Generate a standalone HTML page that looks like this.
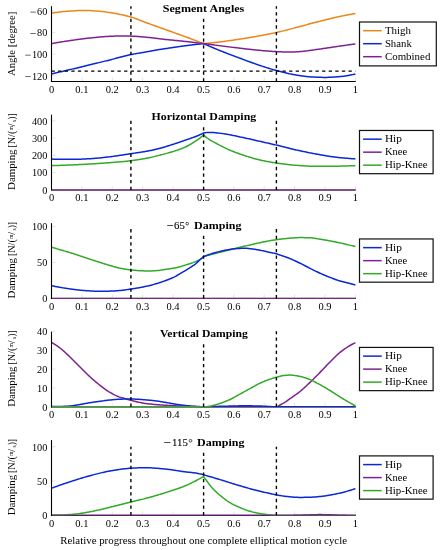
<!DOCTYPE html><html><head><meta charset="utf-8"><style>html,body{margin:0;padding:0;background:#fff;}svg{display:block;will-change:transform;}</style></head><body>
<svg width="440" height="550" viewBox="0 0 440 550">
<rect width="440" height="550" fill="#fff"/>
<defs>
<clipPath id="c0"><rect x="52.00" y="3.20" width="304.50" height="78.75"/></clipPath>
<clipPath id="c1"><rect x="52.00" y="111.67" width="304.50" height="78.75"/></clipPath>
<clipPath id="c2"><rect x="52.00" y="220.15" width="304.50" height="78.75"/></clipPath>
<clipPath id="c3"><rect x="52.00" y="328.62" width="304.50" height="78.75"/></clipPath>
<clipPath id="c4"><rect x="52.00" y="437.10" width="304.50" height="78.75"/></clipPath>
</defs>
<line x1="81.89" y1="81.45" x2="81.89" y2="77.45" stroke="#d9d9d9" stroke-width="0.7"/>
<line x1="112.28" y1="81.45" x2="112.28" y2="77.45" stroke="#d9d9d9" stroke-width="0.7"/>
<line x1="142.67" y1="81.45" x2="142.67" y2="77.45" stroke="#d9d9d9" stroke-width="0.7"/>
<line x1="173.06" y1="81.45" x2="173.06" y2="77.45" stroke="#d9d9d9" stroke-width="0.7"/>
<line x1="203.45" y1="81.45" x2="203.45" y2="77.45" stroke="#d9d9d9" stroke-width="0.7"/>
<line x1="233.84" y1="81.45" x2="233.84" y2="77.45" stroke="#d9d9d9" stroke-width="0.7"/>
<line x1="264.23" y1="81.45" x2="264.23" y2="77.45" stroke="#d9d9d9" stroke-width="0.7"/>
<line x1="294.62" y1="81.45" x2="294.62" y2="77.45" stroke="#d9d9d9" stroke-width="0.7"/>
<line x1="325.01" y1="81.45" x2="325.01" y2="77.45" stroke="#d9d9d9" stroke-width="0.7"/>
<line x1="355.40" y1="81.45" x2="355.40" y2="77.45" stroke="#d9d9d9" stroke-width="0.7"/>
<line x1="51.50" y1="11.10" x2="55.50" y2="11.10" stroke="#d9d9d9" stroke-width="0.7"/>
<line x1="51.50" y1="32.60" x2="55.50" y2="32.60" stroke="#d9d9d9" stroke-width="0.7"/>
<line x1="51.50" y1="54.15" x2="55.50" y2="54.15" stroke="#d9d9d9" stroke-width="0.7"/>
<line x1="51.50" y1="75.70" x2="55.50" y2="75.70" stroke="#d9d9d9" stroke-width="0.7"/>
<line x1="51.50" y1="6.20" x2="51.50" y2="82.00" stroke="#000" stroke-width="1.10"/>
<line x1="50.95" y1="81.45" x2="355.80" y2="81.45" stroke="#000" stroke-width="1.10"/>
<g clip-path="url(#c0)">
<path d="M51.50,13.20 L52.47,13.05 L53.44,12.90 L54.41,12.75 L55.38,12.60 L56.35,12.46 L57.32,12.33 L58.29,12.20 L59.26,12.07 L60.24,11.95 L61.21,11.83 L62.18,11.72 L63.15,11.62 L64.12,11.52 L65.09,11.43 L66.06,11.34 L67.03,11.27 L68.00,11.20 L68.97,11.14 L69.94,11.07 L70.91,11.01 L71.88,10.94 L72.85,10.88 L73.82,10.82 L74.79,10.77 L75.76,10.71 L76.74,10.66 L77.71,10.62 L78.68,10.58 L79.65,10.54 L80.62,10.51 L81.59,10.48 L82.56,10.47 L83.53,10.45 L84.50,10.45 L85.47,10.46 L86.44,10.47 L87.41,10.49 L88.38,10.53 L89.34,10.56 L90.31,10.61 L91.28,10.66 L92.25,10.72 L93.22,10.78 L94.19,10.85 L95.16,10.92 L96.12,10.99 L97.09,11.07 L98.06,11.15 L99.03,11.22 L100.00,11.30 L101.00,11.39 L102.00,11.48 L103.00,11.59 L104.00,11.71 L105.00,11.84 L106.00,11.98 L107.00,12.12 L108.00,12.27 L109.00,12.43 L110.00,12.58 L111.00,12.74 L112.00,12.90 L113.00,13.06 L114.00,13.24 L115.00,13.41 L116.00,13.60 L117.00,13.79 L118.00,13.99 L119.00,14.19 L120.00,14.40 L121.00,14.61 L122.00,14.83 L123.00,15.05 L124.00,15.27 L125.00,15.50 L125.98,15.73 L126.97,15.96 L127.95,16.20 L128.93,16.45 L129.92,16.72 L130.90,17.00 L131.84,17.29 L132.78,17.59 L133.72,17.91 L134.66,18.24 L135.60,18.58 L136.54,18.93 L137.48,19.29 L138.42,19.66 L139.36,20.03 L140.30,20.40 L141.24,20.77 L142.18,21.13 L143.12,21.50 L144.06,21.85 L145.00,22.20 L146.00,22.56 L147.00,22.93 L148.00,23.29 L149.00,23.65 L150.00,24.01 L151.00,24.37 L152.00,24.73 L153.00,25.09 L154.00,25.45 L155.00,25.81 L156.00,26.17 L157.00,26.53 L158.00,26.89 L159.00,27.25 L160.00,27.60 L161.00,27.96 L162.00,28.32 L163.00,28.68 L164.00,29.04 L165.00,29.40 L166.00,29.76 L167.00,30.12 L168.00,30.48 L169.00,30.83 L170.00,31.19 L171.00,31.55 L172.00,31.91 L173.00,32.26 L174.00,32.62 L175.00,32.98 L176.00,33.34 L177.00,33.70 L178.00,34.06 L179.00,34.42 L180.00,34.78 L181.00,35.14 L182.00,35.50 L183.00,35.87 L184.00,36.23 L185.00,36.60 L185.98,36.96 L186.96,37.32 L187.94,37.68 L188.92,38.05 L189.89,38.41 L190.87,38.78 L191.85,39.14 L192.83,39.51 L193.81,39.88 L194.79,40.25 L195.77,40.62 L196.75,40.99 L197.73,41.36 L198.71,41.73 L199.68,42.10 L200.66,42.48 L201.64,42.85 L202.62,43.22 L203.60,43.60 L204.56,43.51 L205.53,43.43 L206.49,43.34 L207.46,43.25 L208.42,43.15 L209.39,43.06 L210.35,42.96 L211.32,42.86 L212.28,42.76 L213.25,42.66 L214.21,42.56 L215.18,42.45 L216.14,42.34 L217.11,42.24 L218.07,42.13 L219.04,42.01 L220.00,41.90 L221.00,41.78 L222.00,41.66 L223.00,41.53 L224.00,41.40 L225.00,41.27 L226.00,41.14 L227.00,41.00 L228.00,40.87 L229.00,40.73 L230.00,40.58 L231.00,40.44 L232.00,40.30 L233.00,40.15 L234.00,40.00 L235.00,39.86 L236.00,39.71 L237.00,39.56 L238.00,39.40 L239.00,39.25 L240.00,39.10 L241.00,38.95 L242.00,38.79 L243.00,38.64 L244.00,38.48 L245.00,38.32 L246.00,38.16 L247.00,37.99 L248.00,37.83 L249.00,37.66 L250.00,37.49 L251.00,37.33 L252.00,37.15 L253.00,36.98 L254.00,36.81 L255.00,36.63 L256.00,36.46 L257.00,36.28 L258.00,36.10 L258.97,35.93 L259.94,35.75 L260.91,35.57 L261.87,35.40 L262.84,35.22 L263.81,35.04 L264.78,34.85 L265.75,34.67 L266.72,34.48 L267.68,34.30 L268.65,34.11 L269.62,33.91 L270.59,33.72 L271.56,33.52 L272.53,33.32 L273.49,33.12 L274.46,32.92 L275.43,32.71 L276.40,32.50 L277.38,32.28 L278.36,32.06 L279.34,31.83 L280.32,31.60 L281.30,31.37 L282.28,31.13 L283.26,30.89 L284.24,30.64 L285.22,30.40 L286.20,30.15 L287.18,29.90 L288.16,29.64 L289.14,29.39 L290.12,29.14 L291.10,28.88 L292.08,28.62 L293.06,28.37 L294.04,28.11 L295.02,27.85 L296.00,27.60 L297.00,27.34 L298.00,27.07 L299.00,26.81 L300.00,26.54 L301.00,26.27 L302.00,25.99 L303.00,25.72 L304.00,25.44 L305.00,25.17 L306.00,24.89 L307.00,24.62 L308.00,24.34 L309.00,24.07 L310.00,23.79 L311.00,23.52 L312.00,23.25 L313.00,22.99 L314.00,22.72 L315.00,22.46 L316.00,22.20 L317.00,21.94 L318.00,21.69 L319.00,21.43 L320.00,21.17 L321.00,20.92 L322.00,20.66 L323.00,20.41 L324.00,20.15 L325.00,19.90 L326.00,19.65 L327.00,19.40 L328.00,19.16 L329.00,18.91 L330.00,18.67 L331.00,18.44 L332.00,18.20 L333.00,17.97 L334.00,17.74 L335.00,17.52 L336.00,17.30 L336.97,17.09 L337.94,16.88 L338.91,16.68 L339.88,16.47 L340.85,16.27 L341.82,16.07 L342.79,15.87 L343.76,15.67 L344.73,15.48 L345.70,15.29 L346.67,15.10 L347.64,14.91 L348.61,14.73 L349.58,14.54 L350.55,14.36 L351.52,14.19 L352.49,14.01 L353.46,13.84 L354.43,13.67 L355.40,13.50" fill="none" stroke="rgb(235,135,25)" stroke-width="1.50" stroke-linejoin="round" stroke-linecap="butt" />
<path d="M51.50,73.90 L52.47,73.68 L53.45,73.45 L54.42,73.23 L55.39,73.01 L56.37,72.78 L57.34,72.56 L58.32,72.33 L59.29,72.11 L60.26,71.88 L61.24,71.65 L62.21,71.43 L63.18,71.20 L64.16,70.97 L65.13,70.74 L66.11,70.52 L67.08,70.29 L68.05,70.06 L69.03,69.83 L70.00,69.60 L71.00,69.36 L72.00,69.13 L73.00,68.89 L74.00,68.65 L75.00,68.41 L76.00,68.17 L77.00,67.94 L78.00,67.70 L79.00,67.46 L80.00,67.22 L81.00,66.98 L82.00,66.73 L83.00,66.49 L84.00,66.25 L85.00,66.01 L86.00,65.77 L87.00,65.53 L88.00,65.28 L89.00,65.04 L90.00,64.80 L91.00,64.56 L92.00,64.31 L93.00,64.07 L94.00,63.83 L95.00,63.59 L96.00,63.34 L97.00,63.10 L98.00,62.86 L99.00,62.61 L100.00,62.37 L101.00,62.12 L102.00,61.88 L103.00,61.63 L104.00,61.39 L105.00,61.14 L106.00,60.89 L107.00,60.65 L108.00,60.40 L109.00,60.15 L110.00,59.90 L111.00,59.65 L111.99,59.39 L112.99,59.14 L113.98,58.87 L114.98,58.61 L115.97,58.34 L116.97,58.07 L117.96,57.81 L118.96,57.54 L119.95,57.27 L120.95,57.01 L121.94,56.74 L122.94,56.48 L123.93,56.23 L124.93,55.98 L125.92,55.73 L126.92,55.49 L127.91,55.25 L128.91,55.03 L129.90,54.81 L130.90,54.60 L131.85,54.41 L132.80,54.22 L133.75,54.04 L134.70,53.87 L135.65,53.70 L136.60,53.53 L137.55,53.37 L138.50,53.21 L139.45,53.05 L140.40,52.89 L141.35,52.73 L142.30,52.58 L143.25,52.42 L144.20,52.26 L145.15,52.10 L146.10,51.94 L147.05,51.77 L148.00,51.60 L149.00,51.41 L150.00,51.22 L151.00,51.03 L152.00,50.84 L153.00,50.65 L154.00,50.46 L155.00,50.27 L156.00,50.10 L157.00,49.93 L158.00,49.77 L159.00,49.61 L160.00,49.45 L161.00,49.30 L162.00,49.15 L163.00,49.00 L164.00,48.85 L165.00,48.70 L166.00,48.55 L167.00,48.40 L168.00,48.25 L169.00,48.10 L170.00,47.94 L171.00,47.79 L172.00,47.64 L173.00,47.49 L174.00,47.35 L175.00,47.20 L176.00,47.05 L177.00,46.91 L178.00,46.76 L179.00,46.62 L180.00,46.48 L181.00,46.34 L182.00,46.20 L183.00,46.06 L184.00,45.93 L185.00,45.80 L185.98,45.67 L186.96,45.55 L187.94,45.42 L188.92,45.30 L189.89,45.18 L190.87,45.06 L191.85,44.94 L192.83,44.82 L193.81,44.70 L194.79,44.58 L195.77,44.47 L196.75,44.36 L197.73,44.24 L198.71,44.13 L199.68,44.02 L200.66,43.92 L201.64,43.81 L202.62,43.70 L203.60,43.60 L204.56,44.03 L205.53,44.46 L206.49,44.89 L207.46,45.31 L208.42,45.73 L209.39,46.15 L210.35,46.57 L211.32,46.99 L212.28,47.40 L213.25,47.81 L214.21,48.22 L215.18,48.62 L216.14,49.02 L217.11,49.42 L218.07,49.82 L219.04,50.21 L220.00,50.60 L221.00,51.00 L222.00,51.40 L223.00,51.79 L224.00,52.18 L225.00,52.57 L226.00,52.96 L227.00,53.34 L228.00,53.72 L229.00,54.10 L230.00,54.47 L231.00,54.85 L232.00,55.22 L233.00,55.60 L234.00,55.97 L235.00,56.34 L236.00,56.71 L237.00,57.08 L238.00,57.46 L239.00,57.83 L240.00,58.20 L241.00,58.57 L242.00,58.95 L243.00,59.33 L244.00,59.70 L245.00,60.08 L246.00,60.46 L247.00,60.83 L248.00,61.21 L249.00,61.58 L250.00,61.96 L251.00,62.32 L252.00,62.69 L253.00,63.05 L254.00,63.41 L255.00,63.77 L256.00,64.12 L257.00,64.46 L258.00,64.80 L258.97,65.12 L259.94,65.45 L260.91,65.77 L261.87,66.09 L262.84,66.41 L263.81,66.73 L264.78,67.04 L265.75,67.35 L266.72,67.66 L267.68,67.97 L268.65,68.27 L269.62,68.56 L270.59,68.86 L271.56,69.14 L272.53,69.43 L273.49,69.70 L274.46,69.98 L275.43,70.24 L276.40,70.50 L277.38,70.76 L278.36,71.02 L279.34,71.27 L280.32,71.53 L281.30,71.78 L282.28,72.03 L283.26,72.28 L284.24,72.53 L285.22,72.77 L286.20,73.00 L287.18,73.23 L288.16,73.46 L289.14,73.68 L290.12,73.89 L291.10,74.10 L292.08,74.29 L293.06,74.48 L294.04,74.66 L295.02,74.84 L296.00,75.00 L297.00,75.16 L298.00,75.32 L299.00,75.48 L300.00,75.64 L301.00,75.79 L302.00,75.94 L303.00,76.08 L304.00,76.22 L305.00,76.34 L306.00,76.46 L307.00,76.57 L308.00,76.67 L309.00,76.76 L310.00,76.84 L311.00,76.90 L312.00,76.96 L313.00,77.01 L314.00,77.06 L315.00,77.11 L316.00,77.16 L317.00,77.21 L318.00,77.25 L319.00,77.28 L320.00,77.32 L321.00,77.35 L322.00,77.37 L323.00,77.39 L324.00,77.40 L325.00,77.40 L326.00,77.39 L327.00,77.38 L328.00,77.36 L329.00,77.32 L330.00,77.28 L331.00,77.23 L332.00,77.18 L333.00,77.12 L334.00,77.06 L335.00,76.99 L336.00,76.91 L337.00,76.84 L338.00,76.76 L339.00,76.68 L340.00,76.60 L340.96,76.52 L341.93,76.42 L342.89,76.31 L343.85,76.18 L344.81,76.05 L345.77,75.90 L346.74,75.75 L347.70,75.58 L348.66,75.41 L349.62,75.23 L350.59,75.04 L351.55,74.84 L352.51,74.64 L353.47,74.43 L354.44,74.22 L355.40,74.00" fill="none" stroke="rgb(10,40,215)" stroke-width="1.50" stroke-linejoin="round" stroke-linecap="butt" />
<path d="M51.50,43.60 L52.47,43.43 L53.45,43.26 L54.42,43.09 L55.39,42.92 L56.37,42.75 L57.34,42.59 L58.32,42.42 L59.29,42.26 L60.26,42.10 L61.24,41.94 L62.21,41.79 L63.18,41.63 L64.16,41.48 L65.13,41.33 L66.11,41.18 L67.08,41.03 L68.05,40.89 L69.03,40.74 L70.00,40.60 L71.00,40.46 L72.00,40.31 L73.00,40.17 L74.00,40.03 L75.00,39.88 L76.00,39.74 L77.00,39.60 L78.00,39.47 L79.00,39.33 L80.00,39.20 L81.00,39.06 L82.00,38.93 L83.00,38.81 L84.00,38.68 L85.00,38.56 L86.00,38.44 L87.00,38.33 L88.00,38.21 L89.00,38.10 L90.00,38.00 L91.00,37.90 L92.00,37.79 L93.00,37.69 L94.00,37.59 L95.00,37.49 L96.00,37.39 L97.00,37.29 L98.00,37.19 L99.00,37.10 L100.00,37.00 L101.00,36.91 L102.00,36.83 L103.00,36.75 L104.00,36.67 L105.00,36.59 L106.00,36.52 L107.00,36.46 L108.00,36.40 L109.00,36.35 L110.00,36.30 L110.98,36.26 L111.95,36.21 L112.93,36.17 L113.91,36.13 L114.88,36.09 L115.86,36.05 L116.84,36.01 L117.82,35.98 L118.79,35.95 L119.77,35.93 L120.75,35.91 L121.72,35.90 L122.70,35.90 L123.65,35.90 L124.59,35.91 L125.54,35.93 L126.48,35.95 L127.43,35.98 L128.38,36.01 L129.32,36.05 L130.27,36.08 L131.22,36.13 L132.16,36.17 L133.11,36.21 L134.05,36.26 L135.00,36.30 L136.00,36.35 L137.00,36.41 L138.00,36.48 L139.00,36.55 L140.00,36.63 L141.00,36.71 L142.00,36.80 L143.00,36.90 L144.00,36.99 L145.00,37.09 L146.00,37.19 L147.00,37.29 L148.00,37.40 L149.00,37.50 L150.00,37.60 L151.00,37.70 L152.00,37.81 L153.00,37.93 L154.00,38.05 L155.00,38.17 L156.00,38.29 L157.00,38.42 L158.00,38.55 L159.00,38.67 L160.00,38.80 L161.00,38.93 L162.00,39.05 L163.00,39.17 L164.00,39.29 L165.00,39.40 L166.00,39.51 L167.00,39.61 L168.00,39.72 L169.00,39.82 L170.00,39.92 L171.00,40.02 L172.00,40.11 L173.00,40.21 L174.00,40.31 L175.00,40.40 L176.00,40.50 L177.00,40.59 L178.00,40.69 L179.00,40.79 L180.00,40.89 L181.00,40.98 L182.00,41.09 L183.00,41.19 L184.00,41.29 L185.00,41.40 L185.98,41.51 L186.96,41.62 L187.94,41.72 L188.92,41.84 L189.89,41.95 L190.87,42.06 L191.85,42.17 L192.83,42.29 L193.81,42.41 L194.79,42.52 L195.77,42.64 L196.75,42.76 L197.73,42.88 L198.71,43.00 L199.68,43.12 L200.66,43.24 L201.64,43.36 L202.62,43.48 L203.60,43.60 L204.57,43.72 L205.54,43.84 L206.51,43.97 L207.47,44.09 L208.44,44.22 L209.41,44.35 L210.38,44.47 L211.35,44.60 L212.32,44.73 L213.28,44.86 L214.25,44.99 L215.22,45.12 L216.19,45.25 L217.16,45.37 L218.13,45.50 L219.09,45.63 L220.06,45.75 L221.03,45.88 L222.00,46.00 L223.00,46.13 L224.00,46.25 L225.00,46.38 L226.00,46.50 L227.00,46.63 L228.00,46.75 L229.00,46.88 L230.00,47.00 L231.00,47.12 L232.00,47.24 L233.00,47.37 L234.00,47.49 L235.00,47.61 L236.00,47.73 L237.00,47.85 L238.00,47.97 L239.00,48.08 L240.00,48.20 L241.00,48.32 L242.00,48.43 L243.00,48.55 L244.00,48.67 L245.00,48.79 L246.00,48.91 L247.00,49.03 L248.00,49.14 L249.00,49.26 L250.00,49.37 L251.00,49.49 L252.00,49.60 L253.00,49.70 L254.00,49.81 L255.00,49.91 L256.00,50.01 L257.00,50.11 L258.00,50.20 L258.97,50.29 L259.94,50.37 L260.91,50.46 L261.87,50.55 L262.84,50.63 L263.81,50.72 L264.78,50.80 L265.75,50.88 L266.72,50.96 L267.68,51.03 L268.65,51.11 L269.62,51.18 L270.59,51.25 L271.56,51.32 L272.53,51.38 L273.49,51.44 L274.46,51.50 L275.43,51.55 L276.40,51.60 L277.37,51.65 L278.34,51.70 L279.31,51.75 L280.29,51.80 L281.26,51.84 L282.23,51.89 L283.20,51.93 L284.17,51.97 L285.14,52.01 L286.11,52.04 L287.09,52.06 L288.06,52.08 L289.03,52.10 L290.00,52.10 L291.00,52.09 L292.00,52.07 L293.00,52.04 L294.00,51.99 L295.00,51.94 L296.00,51.87 L297.00,51.80 L298.00,51.72 L299.00,51.64 L300.00,51.56 L301.00,51.47 L302.00,51.38 L303.00,51.30 L304.00,51.21 L305.00,51.11 L306.00,51.00 L307.00,50.87 L308.00,50.74 L309.00,50.61 L310.00,50.47 L311.00,50.32 L312.00,50.18 L313.00,50.03 L314.00,49.88 L315.00,49.74 L316.00,49.60 L317.00,49.46 L318.00,49.32 L319.00,49.18 L320.00,49.03 L321.00,48.89 L322.00,48.74 L323.00,48.59 L324.00,48.44 L325.00,48.29 L326.00,48.14 L327.00,47.99 L328.00,47.84 L329.00,47.69 L330.00,47.54 L331.00,47.39 L332.00,47.24 L333.00,47.09 L334.00,46.95 L335.00,46.80 L335.97,46.66 L336.94,46.52 L337.91,46.38 L338.89,46.24 L339.86,46.10 L340.83,45.96 L341.80,45.82 L342.77,45.68 L343.74,45.54 L344.71,45.41 L345.69,45.27 L346.66,45.13 L347.63,44.99 L348.60,44.85 L349.57,44.72 L350.54,44.58 L351.51,44.44 L352.49,44.31 L353.46,44.17 L354.43,44.04 L355.40,43.90" fill="none" stroke="rgb(125,35,145)" stroke-width="1.50" stroke-linejoin="round" stroke-linecap="butt" />
</g>
<line x1="130.90" y1="81.45" x2="130.90" y2="6.20" stroke="#000" stroke-width="1.40" stroke-dasharray="3.3 3.3"/>
<line x1="203.60" y1="81.45" x2="203.60" y2="6.20" stroke="#000" stroke-width="1.40" stroke-dasharray="3.3 3.3"/>
<line x1="276.40" y1="81.45" x2="276.40" y2="6.20" stroke="#000" stroke-width="1.40" stroke-dasharray="3.3 3.3"/>
<line x1="51.50" y1="71.1" x2="355.40" y2="71.1" stroke="#000" stroke-width="1.40" stroke-dasharray="3.3 3.3"/>
<rect x="161.20" y="5.20" width="84.70" height="12.00" fill="#fff"/>
<text x="162.80" y="11.75" font-family="Liberation Serif, serif" font-size="11.10" font-weight="bold" textLength="81.50" lengthAdjust="spacingAndGlyphs">Segment Angles</text>
<text x="47.40" y="14.90" font-family="Liberation Serif, serif" font-size="10.30" text-anchor="end">60</text>
<rect x="30.40" y="11.70" width="5.40" height="0.75" fill="#3a3a3a"/>
<text x="47.40" y="36.40" font-family="Liberation Serif, serif" font-size="10.30" text-anchor="end">80</text>
<rect x="30.40" y="33.20" width="5.40" height="0.75" fill="#3a3a3a"/>
<text x="47.40" y="57.95" font-family="Liberation Serif, serif" font-size="10.30" text-anchor="end">100</text>
<rect x="25.25" y="54.75" width="5.40" height="0.75" fill="#3a3a3a"/>
<text x="47.40" y="79.50" font-family="Liberation Serif, serif" font-size="10.30" text-anchor="end">120</text>
<rect x="25.25" y="76.30" width="5.40" height="0.75" fill="#3a3a3a"/>
<text x="51.50" y="93.00" font-family="Liberation Serif, serif" font-size="10.50" text-anchor="middle">0</text>
<text x="81.89" y="93.00" font-family="Liberation Serif, serif" font-size="10.50" text-anchor="middle">0.1</text>
<text x="112.28" y="93.00" font-family="Liberation Serif, serif" font-size="10.50" text-anchor="middle">0.2</text>
<text x="142.67" y="93.00" font-family="Liberation Serif, serif" font-size="10.50" text-anchor="middle">0.3</text>
<text x="173.06" y="93.00" font-family="Liberation Serif, serif" font-size="10.50" text-anchor="middle">0.4</text>
<text x="203.45" y="93.00" font-family="Liberation Serif, serif" font-size="10.50" text-anchor="middle">0.5</text>
<text x="233.84" y="93.00" font-family="Liberation Serif, serif" font-size="10.50" text-anchor="middle">0.6</text>
<text x="264.23" y="93.00" font-family="Liberation Serif, serif" font-size="10.50" text-anchor="middle">0.7</text>
<text x="294.62" y="93.00" font-family="Liberation Serif, serif" font-size="10.50" text-anchor="middle">0.8</text>
<text x="325.01" y="93.00" font-family="Liberation Serif, serif" font-size="10.50" text-anchor="middle">0.9</text>
<text x="355.40" y="93.00" font-family="Liberation Serif, serif" font-size="10.50" text-anchor="middle">1</text>
<text transform="translate(15.40,76.10) rotate(-90)" font-family="Liberation Serif, serif" font-size="10.90" textLength="64.50" lengthAdjust="spacingAndGlyphs">Angle [degree]</text>
<rect x="359.5" y="22.00" width="76.80" height="43.90" fill="#fff" stroke="#111" stroke-width="1.20"/>
<line x1="363.1" y1="30.70" x2="381.7" y2="30.70" stroke="rgb(235,135,25)" stroke-width="1.50"/>
<text x="384.90" y="33.90" font-family="Liberation Serif, serif" font-size="10.90" textLength="26.10" lengthAdjust="spacingAndGlyphs">Thigh</text>
<line x1="363.1" y1="43.70" x2="381.7" y2="43.70" stroke="rgb(10,40,215)" stroke-width="1.50"/>
<text x="384.90" y="46.90" font-family="Liberation Serif, serif" font-size="10.90" textLength="26.90" lengthAdjust="spacingAndGlyphs">Shank</text>
<line x1="363.1" y1="56.70" x2="381.7" y2="56.70" stroke="rgb(125,35,145)" stroke-width="1.50"/>
<text x="384.90" y="59.90" font-family="Liberation Serif, serif" font-size="10.90" textLength="45.50" lengthAdjust="spacingAndGlyphs">Combined</text>
<line x1="81.89" y1="189.93" x2="81.89" y2="185.93" stroke="#d9d9d9" stroke-width="0.7"/>
<line x1="112.28" y1="189.93" x2="112.28" y2="185.93" stroke="#d9d9d9" stroke-width="0.7"/>
<line x1="142.67" y1="189.93" x2="142.67" y2="185.93" stroke="#d9d9d9" stroke-width="0.7"/>
<line x1="173.06" y1="189.93" x2="173.06" y2="185.93" stroke="#d9d9d9" stroke-width="0.7"/>
<line x1="203.45" y1="189.93" x2="203.45" y2="185.93" stroke="#d9d9d9" stroke-width="0.7"/>
<line x1="233.84" y1="189.93" x2="233.84" y2="185.93" stroke="#d9d9d9" stroke-width="0.7"/>
<line x1="264.23" y1="189.93" x2="264.23" y2="185.93" stroke="#d9d9d9" stroke-width="0.7"/>
<line x1="294.62" y1="189.93" x2="294.62" y2="185.93" stroke="#d9d9d9" stroke-width="0.7"/>
<line x1="325.01" y1="189.93" x2="325.01" y2="185.93" stroke="#d9d9d9" stroke-width="0.7"/>
<line x1="355.40" y1="189.93" x2="355.40" y2="185.93" stroke="#d9d9d9" stroke-width="0.7"/>
<line x1="51.50" y1="120.80" x2="55.50" y2="120.80" stroke="#d9d9d9" stroke-width="0.7"/>
<line x1="51.50" y1="138.00" x2="55.50" y2="138.00" stroke="#d9d9d9" stroke-width="0.7"/>
<line x1="51.50" y1="155.30" x2="55.50" y2="155.30" stroke="#d9d9d9" stroke-width="0.7"/>
<line x1="51.50" y1="172.50" x2="55.50" y2="172.50" stroke="#d9d9d9" stroke-width="0.7"/>
<line x1="51.50" y1="114.67" x2="51.50" y2="190.48" stroke="#000" stroke-width="1.10"/>
<line x1="50.95" y1="189.93" x2="355.80" y2="189.93" stroke="#000" stroke-width="1.10"/>
<g clip-path="url(#c1)">
<path d="M51.50,159.10 L52.46,159.12 L53.42,159.15 L54.38,159.17 L55.34,159.19 L56.30,159.20 L57.27,159.22 L58.23,159.23 L59.19,159.24 L60.15,159.25 L61.11,159.26 L62.07,159.27 L63.03,159.28 L63.99,159.28 L64.95,159.29 L65.91,159.29 L66.87,159.29 L67.83,159.30 L68.80,159.30 L69.76,159.30 L70.72,159.30 L71.68,159.30 L72.64,159.30 L73.60,159.30 L74.56,159.30 L75.53,159.29 L76.49,159.27 L77.46,159.25 L78.42,159.23 L79.39,159.20 L80.35,159.16 L81.32,159.13 L82.28,159.09 L83.25,159.04 L84.21,159.00 L85.18,158.95 L86.14,158.90 L87.11,158.85 L88.07,158.80 L89.04,158.75 L90.00,158.70 L91.00,158.64 L92.00,158.58 L93.00,158.51 L94.00,158.44 L95.00,158.36 L96.00,158.27 L97.00,158.18 L98.00,158.09 L99.00,157.99 L100.00,157.89 L101.00,157.78 L102.00,157.67 L103.00,157.56 L104.00,157.45 L105.00,157.34 L106.00,157.23 L107.00,157.11 L108.00,157.00 L109.00,156.88 L110.00,156.76 L111.00,156.64 L112.00,156.50 L113.00,156.37 L114.00,156.23 L115.00,156.09 L116.00,155.95 L117.00,155.80 L118.00,155.65 L119.00,155.50 L120.00,155.35 L121.00,155.20 L122.00,155.05 L123.00,154.90 L124.00,154.75 L125.00,154.60 L125.98,154.45 L126.97,154.31 L127.95,154.16 L128.93,154.00 L129.92,153.85 L130.90,153.70 L131.85,153.55 L132.80,153.41 L133.75,153.27 L134.70,153.13 L135.65,152.99 L136.60,152.85 L137.55,152.70 L138.50,152.56 L139.45,152.42 L140.40,152.28 L141.35,152.13 L142.30,151.98 L143.25,151.83 L144.20,151.67 L145.15,151.51 L146.10,151.35 L147.05,151.18 L148.00,151.00 L149.00,150.81 L150.00,150.61 L151.00,150.41 L152.00,150.20 L153.00,149.98 L154.00,149.76 L155.00,149.53 L156.00,149.29 L157.00,149.05 L158.00,148.81 L159.00,148.56 L160.00,148.30 L160.96,148.05 L161.92,147.78 L162.88,147.51 L163.85,147.23 L164.81,146.94 L165.77,146.64 L166.73,146.34 L167.69,146.04 L168.65,145.73 L169.62,145.43 L170.58,145.12 L171.54,144.81 L172.50,144.50 L173.46,144.19 L174.42,143.88 L175.38,143.57 L176.35,143.25 L177.31,142.93 L178.27,142.61 L179.23,142.28 L180.19,141.96 L181.15,141.63 L182.12,141.30 L183.08,140.97 L184.04,140.63 L185.00,140.30 L185.96,139.97 L186.92,139.64 L187.88,139.31 L188.85,138.98 L189.81,138.65 L190.77,138.31 L191.73,137.98 L192.69,137.63 L193.65,137.29 L194.62,136.93 L195.58,136.56 L196.54,136.19 L197.50,135.80 L198.37,135.44 L199.24,135.06 L200.11,134.66 L200.99,134.26 L201.86,133.85 L202.73,133.43 L203.60,133.00 L204.51,132.86 L205.43,132.73 L206.34,132.62 L207.26,132.53 L208.17,132.46 L209.09,132.42 L210.00,132.40 L211.00,132.41 L212.00,132.45 L213.00,132.50 L214.00,132.58 L215.00,132.67 L216.00,132.77 L217.00,132.88 L218.00,133.00 L219.00,133.12 L220.00,133.25 L221.00,133.38 L222.00,133.50 L223.00,133.63 L224.00,133.77 L225.00,133.92 L226.00,134.08 L227.00,134.25 L228.00,134.43 L229.00,134.62 L230.00,134.81 L231.00,135.01 L232.00,135.22 L233.00,135.42 L234.00,135.63 L235.00,135.85 L236.00,136.06 L237.00,136.27 L238.00,136.48 L239.00,136.69 L240.00,136.90 L241.00,137.11 L242.00,137.32 L243.00,137.53 L244.00,137.74 L245.00,137.96 L246.00,138.18 L247.00,138.40 L248.00,138.63 L249.00,138.85 L250.00,139.08 L251.00,139.31 L252.00,139.53 L253.00,139.76 L254.00,139.99 L255.00,140.22 L256.00,140.45 L257.00,140.67 L258.00,140.90 L258.97,141.12 L259.94,141.34 L260.91,141.55 L261.87,141.77 L262.84,141.99 L263.81,142.21 L264.78,142.43 L265.75,142.65 L266.72,142.86 L267.68,143.08 L268.65,143.31 L269.62,143.53 L270.59,143.75 L271.56,143.97 L272.53,144.19 L273.49,144.42 L274.46,144.65 L275.43,144.87 L276.40,145.10 L277.38,145.33 L278.36,145.57 L279.34,145.81 L280.32,146.05 L281.30,146.30 L282.28,146.54 L283.26,146.79 L284.24,147.04 L285.22,147.28 L286.20,147.53 L287.18,147.78 L288.16,148.02 L289.14,148.27 L290.12,148.51 L291.10,148.75 L292.08,148.99 L293.06,149.22 L294.04,149.45 L295.02,149.68 L296.00,149.90 L297.00,150.12 L298.00,150.34 L299.00,150.56 L300.00,150.78 L301.00,151.00 L302.00,151.22 L303.00,151.43 L304.00,151.64 L305.00,151.85 L306.00,152.06 L307.00,152.26 L308.00,152.47 L309.00,152.67 L310.00,152.87 L311.00,153.06 L312.00,153.26 L313.00,153.45 L314.00,153.63 L315.00,153.82 L316.00,154.00 L317.00,154.18 L318.00,154.36 L319.00,154.54 L320.00,154.72 L321.00,154.90 L322.00,155.08 L323.00,155.25 L324.00,155.43 L325.00,155.60 L326.00,155.77 L327.00,155.93 L328.00,156.09 L329.00,156.25 L330.00,156.40 L331.00,156.55 L332.00,156.69 L333.00,156.83 L334.00,156.96 L335.00,157.08 L336.00,157.20 L336.97,157.31 L337.94,157.42 L338.91,157.52 L339.88,157.63 L340.85,157.73 L341.82,157.83 L342.79,157.92 L343.76,158.02 L344.73,158.11 L345.70,158.20 L346.67,158.28 L347.64,158.37 L348.61,158.45 L349.58,158.52 L350.55,158.60 L351.52,158.66 L352.49,158.73 L353.46,158.79 L354.43,158.85 L355.40,158.90" fill="none" stroke="rgb(10,40,215)" stroke-width="1.50" stroke-linejoin="round" stroke-linecap="butt" />
<path d="M51.50,165.60 L52.47,165.58 L53.45,165.55 L54.42,165.53 L55.39,165.50 L56.37,165.47 L57.34,165.44 L58.32,165.41 L59.29,165.38 L60.26,165.35 L61.24,165.32 L62.21,165.29 L63.18,165.25 L64.16,165.22 L65.13,165.18 L66.11,165.15 L67.08,165.11 L68.05,165.08 L69.03,165.04 L70.00,165.00 L71.00,164.96 L72.00,164.92 L73.00,164.88 L74.00,164.83 L75.00,164.79 L76.00,164.74 L77.00,164.69 L78.00,164.64 L79.00,164.60 L80.00,164.55 L81.00,164.49 L82.00,164.44 L83.00,164.39 L84.00,164.33 L85.00,164.28 L86.00,164.23 L87.00,164.17 L88.00,164.11 L89.00,164.06 L90.00,164.00 L91.00,163.94 L92.00,163.88 L93.00,163.82 L94.00,163.76 L95.00,163.70 L96.00,163.63 L97.00,163.57 L98.00,163.50 L99.00,163.44 L100.00,163.37 L101.00,163.30 L102.00,163.23 L103.00,163.16 L104.00,163.09 L105.00,163.02 L106.00,162.95 L107.00,162.87 L108.00,162.80 L109.00,162.73 L110.00,162.65 L111.00,162.58 L112.00,162.50 L113.00,162.43 L114.00,162.35 L115.00,162.27 L116.00,162.20 L117.00,162.12 L118.00,162.03 L119.00,161.95 L120.00,161.87 L121.00,161.78 L122.00,161.69 L123.00,161.59 L124.00,161.50 L125.00,161.40 L125.98,161.30 L126.97,161.19 L127.95,161.07 L128.93,160.95 L129.92,160.83 L130.90,160.70 L131.85,160.57 L132.80,160.44 L133.75,160.31 L134.70,160.18 L135.65,160.05 L136.60,159.91 L137.55,159.77 L138.50,159.63 L139.45,159.48 L140.40,159.33 L141.35,159.18 L142.30,159.02 L143.25,158.86 L144.20,158.70 L145.15,158.53 L146.10,158.36 L147.05,158.18 L148.00,158.00 L149.00,157.80 L150.00,157.59 L151.00,157.36 L152.00,157.13 L153.00,156.89 L154.00,156.64 L155.00,156.39 L156.00,156.13 L157.00,155.88 L158.00,155.62 L159.00,155.36 L160.00,155.10 L160.96,154.85 L161.92,154.61 L162.88,154.36 L163.85,154.11 L164.81,153.86 L165.77,153.61 L166.73,153.36 L167.69,153.10 L168.65,152.83 L169.62,152.56 L170.58,152.28 L171.54,151.99 L172.50,151.70 L173.46,151.40 L174.42,151.10 L175.38,150.79 L176.35,150.48 L177.31,150.16 L178.27,149.83 L179.23,149.50 L180.19,149.15 L181.15,148.79 L182.12,148.41 L183.08,148.03 L184.04,147.62 L185.00,147.20 L185.96,146.76 L186.92,146.28 L187.88,145.79 L188.85,145.27 L189.81,144.72 L190.77,144.16 L191.73,143.58 L192.69,142.98 L193.65,142.37 L194.62,141.74 L195.58,141.11 L196.54,140.46 L197.50,139.80 L198.37,139.19 L199.24,138.54 L200.11,137.87 L200.99,137.18 L201.86,136.46 L202.73,135.74 L203.60,135.00 L204.50,135.80 L205.40,136.57 L206.30,137.31 L207.20,138.02 L208.10,138.68 L209.00,139.30 L210.00,139.94 L211.00,140.53 L212.00,141.10 L213.00,141.64 L214.00,142.17 L215.00,142.70 L216.00,143.24 L217.00,143.77 L218.00,144.31 L219.00,144.84 L220.00,145.37 L221.00,145.89 L222.00,146.41 L223.00,146.92 L224.00,147.42 L225.00,147.91 L226.00,148.39 L227.00,148.86 L228.00,149.32 L229.00,149.77 L230.00,150.20 L231.00,150.62 L232.00,151.03 L233.00,151.43 L234.00,151.82 L235.00,152.21 L236.00,152.59 L237.00,152.96 L238.00,153.32 L239.00,153.68 L240.00,154.03 L241.00,154.37 L242.00,154.71 L243.00,155.05 L244.00,155.38 L245.00,155.70 L246.00,156.02 L247.00,156.34 L248.00,156.66 L249.00,156.97 L250.00,157.28 L251.00,157.59 L252.00,157.89 L253.00,158.18 L254.00,158.47 L255.00,158.74 L256.00,159.02 L257.00,159.28 L258.00,159.53 L259.00,159.77 L260.00,160.00 L260.96,160.21 L261.93,160.42 L262.89,160.63 L263.86,160.83 L264.82,161.02 L265.79,161.21 L266.75,161.40 L267.72,161.58 L268.68,161.75 L269.65,161.92 L270.61,162.09 L271.58,162.25 L272.54,162.41 L273.51,162.56 L274.47,162.71 L275.44,162.86 L276.40,163.00 L277.38,163.14 L278.36,163.28 L279.34,163.42 L280.32,163.56 L281.30,163.69 L282.28,163.82 L283.26,163.96 L284.24,164.08 L285.22,164.21 L286.20,164.33 L287.18,164.45 L288.16,164.56 L289.14,164.67 L290.12,164.78 L291.10,164.88 L292.08,164.97 L293.06,165.07 L294.04,165.15 L295.02,165.23 L296.00,165.30 L297.00,165.37 L298.00,165.44 L299.00,165.51 L300.00,165.58 L301.00,165.65 L302.00,165.72 L303.00,165.79 L304.00,165.85 L305.00,165.92 L306.00,165.98 L307.00,166.03 L308.00,166.08 L309.00,166.13 L310.00,166.17 L311.00,166.21 L312.00,166.24 L313.00,166.27 L314.00,166.28 L315.00,166.30 L316.00,166.30 L317.00,166.30 L318.00,166.30 L319.00,166.30 L320.00,166.30 L321.00,166.29 L322.00,166.29 L323.00,166.29 L324.00,166.28 L325.00,166.28 L326.00,166.27 L327.00,166.27 L328.00,166.26 L329.00,166.25 L330.00,166.25 L331.00,166.24 L332.00,166.23 L333.00,166.22 L334.00,166.22 L335.00,166.21 L336.00,166.20 L336.97,166.19 L337.94,166.18 L338.91,166.16 L339.88,166.14 L340.85,166.12 L341.82,166.10 L342.79,166.07 L343.76,166.05 L344.73,166.02 L345.70,165.99 L346.67,165.95 L347.64,165.92 L348.61,165.88 L349.58,165.84 L350.55,165.81 L351.52,165.77 L352.49,165.73 L353.46,165.68 L354.43,165.64 L355.40,165.60" fill="none" stroke="rgb(50,170,40)" stroke-width="1.50" stroke-linejoin="round" stroke-linecap="butt" />
<path d="M51.50,190.20 L355.40,190.20" fill="none" stroke="rgb(125,35,145)" stroke-width="1.50" stroke-linejoin="round" stroke-linecap="butt" />
</g>
<line x1="130.90" y1="189.93" x2="130.90" y2="120.80" stroke="#000" stroke-width="1.40" stroke-dasharray="3.3 3.3"/>
<line x1="203.60" y1="189.93" x2="203.60" y2="120.80" stroke="#000" stroke-width="1.40" stroke-dasharray="3.3 3.3"/>
<line x1="276.40" y1="189.93" x2="276.40" y2="120.80" stroke="#000" stroke-width="1.40" stroke-dasharray="3.3 3.3"/>
<rect x="150.00" y="113.67" width="107.80" height="12.00" fill="#fff"/>
<text x="151.60" y="120.30" font-family="Liberation Serif, serif" font-size="11.10" font-weight="bold" textLength="104.60" lengthAdjust="spacingAndGlyphs">Horizontal Damping</text>
<text x="47.40" y="124.60" font-family="Liberation Serif, serif" font-size="10.30" text-anchor="end">400</text>
<text x="47.40" y="141.80" font-family="Liberation Serif, serif" font-size="10.30" text-anchor="end">300</text>
<text x="47.40" y="159.10" font-family="Liberation Serif, serif" font-size="10.30" text-anchor="end">200</text>
<text x="47.40" y="176.30" font-family="Liberation Serif, serif" font-size="10.30" text-anchor="end">100</text>
<text x="47.40" y="193.70" font-family="Liberation Serif, serif" font-size="10.30" text-anchor="end">0</text>
<text x="51.50" y="201.47" font-family="Liberation Serif, serif" font-size="10.50" text-anchor="middle">0</text>
<text x="81.89" y="201.47" font-family="Liberation Serif, serif" font-size="10.50" text-anchor="middle">0.1</text>
<text x="112.28" y="201.47" font-family="Liberation Serif, serif" font-size="10.50" text-anchor="middle">0.2</text>
<text x="142.67" y="201.47" font-family="Liberation Serif, serif" font-size="10.50" text-anchor="middle">0.3</text>
<text x="173.06" y="201.47" font-family="Liberation Serif, serif" font-size="10.50" text-anchor="middle">0.4</text>
<text x="203.45" y="201.47" font-family="Liberation Serif, serif" font-size="10.50" text-anchor="middle">0.5</text>
<text x="233.84" y="201.47" font-family="Liberation Serif, serif" font-size="10.50" text-anchor="middle">0.6</text>
<text x="264.23" y="201.47" font-family="Liberation Serif, serif" font-size="10.50" text-anchor="middle">0.7</text>
<text x="294.62" y="201.47" font-family="Liberation Serif, serif" font-size="10.50" text-anchor="middle">0.8</text>
<text x="325.01" y="201.47" font-family="Liberation Serif, serif" font-size="10.50" text-anchor="middle">0.9</text>
<text x="355.40" y="201.47" font-family="Liberation Serif, serif" font-size="10.50" text-anchor="middle">1</text>
<g transform="translate(15.40,189.90) rotate(-90)"><text font-family="Liberation Serif, serif" font-size="10.90" textLength="40.40" lengthAdjust="spacingAndGlyphs">Damping</text><text x="42.3" font-family="Liberation Serif, serif" font-size="10.90" textLength="16.90" lengthAdjust="spacingAndGlyphs">[N/(</text><text x="59.6" y="-2.6" font-family="Liberation Serif, serif" font-size="5.20">m</text><text x="63.7" y="0" font-family="Liberation Serif, serif" font-size="10.36">/</text><text x="67.8" y="0.2" font-family="Liberation Serif, serif" font-size="5.60">s</text><text x="70.4" font-family="Liberation Serif, serif" font-size="10.90" textLength="5.80" lengthAdjust="spacingAndGlyphs">)]</text></g>
<rect x="359.5" y="130.47" width="73.60" height="43.22" fill="#fff" stroke="#111" stroke-width="1.20"/>
<line x1="363.1" y1="139.17" x2="381.7" y2="139.17" stroke="rgb(10,40,215)" stroke-width="1.50"/>
<text x="384.90" y="142.37" font-family="Liberation Serif, serif" font-size="10.90" textLength="17.10" lengthAdjust="spacingAndGlyphs">Hip</text>
<line x1="363.1" y1="152.17" x2="381.7" y2="152.17" stroke="rgb(125,35,145)" stroke-width="1.50"/>
<text x="384.90" y="155.37" font-family="Liberation Serif, serif" font-size="10.90" textLength="22.30" lengthAdjust="spacingAndGlyphs">Knee</text>
<line x1="363.1" y1="165.18" x2="381.7" y2="165.18" stroke="rgb(50,170,40)" stroke-width="1.50"/>
<text x="384.90" y="168.38" font-family="Liberation Serif, serif" font-size="10.90" textLength="42.80" lengthAdjust="spacingAndGlyphs">Hip-Knee</text>
<line x1="81.89" y1="298.40" x2="81.89" y2="294.40" stroke="#d9d9d9" stroke-width="0.7"/>
<line x1="112.28" y1="298.40" x2="112.28" y2="294.40" stroke="#d9d9d9" stroke-width="0.7"/>
<line x1="142.67" y1="298.40" x2="142.67" y2="294.40" stroke="#d9d9d9" stroke-width="0.7"/>
<line x1="173.06" y1="298.40" x2="173.06" y2="294.40" stroke="#d9d9d9" stroke-width="0.7"/>
<line x1="203.45" y1="298.40" x2="203.45" y2="294.40" stroke="#d9d9d9" stroke-width="0.7"/>
<line x1="233.84" y1="298.40" x2="233.84" y2="294.40" stroke="#d9d9d9" stroke-width="0.7"/>
<line x1="264.23" y1="298.40" x2="264.23" y2="294.40" stroke="#d9d9d9" stroke-width="0.7"/>
<line x1="294.62" y1="298.40" x2="294.62" y2="294.40" stroke="#d9d9d9" stroke-width="0.7"/>
<line x1="325.01" y1="298.40" x2="325.01" y2="294.40" stroke="#d9d9d9" stroke-width="0.7"/>
<line x1="355.40" y1="298.40" x2="355.40" y2="294.40" stroke="#d9d9d9" stroke-width="0.7"/>
<line x1="51.50" y1="226.50" x2="55.50" y2="226.50" stroke="#d9d9d9" stroke-width="0.7"/>
<line x1="51.50" y1="262.50" x2="55.50" y2="262.50" stroke="#d9d9d9" stroke-width="0.7"/>
<line x1="51.50" y1="223.15" x2="51.50" y2="298.95" stroke="#000" stroke-width="1.10"/>
<line x1="50.95" y1="298.40" x2="355.80" y2="298.40" stroke="#000" stroke-width="1.10"/>
<g clip-path="url(#c2)">
<path d="M51.50,247.20 L52.44,247.48 L53.39,247.76 L54.33,248.04 L55.28,248.32 L56.22,248.59 L57.17,248.87 L58.11,249.15 L59.06,249.42 L60.00,249.70 L61.00,249.99 L62.00,250.28 L63.00,250.56 L64.00,250.85 L65.00,251.13 L66.00,251.42 L67.00,251.70 L68.00,252.00 L69.00,252.30 L70.00,252.60 L71.00,252.91 L72.00,253.23 L73.00,253.56 L74.00,253.89 L75.00,254.22 L76.00,254.56 L77.00,254.90 L78.00,255.23 L79.00,255.57 L80.00,255.90 L81.00,256.23 L82.00,256.56 L83.00,256.89 L84.00,257.22 L85.00,257.56 L86.00,257.89 L87.00,258.22 L88.00,258.55 L89.00,258.87 L90.00,259.20 L91.00,259.52 L92.00,259.85 L93.00,260.17 L94.00,260.49 L95.00,260.81 L96.00,261.13 L97.00,261.45 L98.00,261.77 L99.00,262.08 L100.00,262.40 L101.00,262.72 L102.00,263.03 L103.00,263.35 L104.00,263.67 L105.00,263.98 L106.00,264.30 L107.00,264.60 L108.00,264.91 L109.00,265.21 L110.00,265.50 L111.00,265.79 L112.00,266.09 L113.00,266.38 L114.00,266.67 L115.00,266.96 L116.00,267.24 L117.00,267.50 L118.00,267.75 L119.00,267.99 L120.00,268.20 L121.00,268.40 L122.00,268.59 L123.00,268.77 L124.00,268.94 L125.00,269.11 L126.00,269.26 L127.00,269.41 L128.00,269.55 L129.00,269.68 L130.00,269.80 L131.00,269.91 L132.00,270.02 L133.00,270.13 L134.00,270.23 L135.00,270.33 L136.00,270.42 L137.00,270.50 L138.00,270.58 L139.00,270.64 L140.00,270.70 L141.00,270.75 L142.00,270.81 L143.00,270.86 L144.00,270.90 L145.00,270.94 L146.00,270.97 L147.00,270.99 L148.00,271.00 L149.00,270.99 L150.00,270.97 L151.00,270.94 L152.00,270.90 L153.00,270.85 L154.00,270.79 L155.00,270.73 L156.00,270.67 L157.00,270.60 L158.00,270.52 L159.00,270.41 L160.00,270.28 L161.00,270.13 L162.00,269.97 L163.00,269.81 L164.00,269.65 L165.00,269.50 L166.00,269.35 L167.00,269.21 L168.00,269.06 L169.00,268.91 L170.00,268.76 L171.00,268.60 L172.00,268.44 L173.00,268.27 L174.00,268.09 L175.00,267.90 L176.00,267.69 L177.00,267.46 L178.00,267.22 L179.00,266.96 L180.00,266.70 L181.00,266.42 L182.00,266.13 L183.00,265.82 L184.00,265.51 L185.00,265.20 L186.00,264.89 L187.00,264.57 L188.00,264.25 L189.00,263.93 L190.00,263.60 L191.00,263.28 L192.00,262.96 L193.00,262.64 L194.00,262.29 L195.00,261.90 L196.00,261.47 L197.00,260.99 L198.00,260.46 L199.00,259.90 L200.00,259.30 L200.90,258.71 L201.80,258.05 L202.70,257.35 L203.60,256.60 L204.55,256.35 L205.50,256.10 L206.45,255.85 L207.40,255.60 L208.35,255.35 L209.30,255.10 L210.25,254.85 L211.20,254.60 L212.15,254.35 L213.10,254.10 L214.05,253.85 L215.00,253.60 L216.00,253.34 L217.00,253.08 L218.00,252.81 L219.00,252.55 L220.00,252.29 L221.00,252.03 L222.00,251.77 L223.00,251.51 L224.00,251.26 L225.00,251.00 L226.00,250.75 L227.00,250.49 L228.00,250.24 L229.00,249.99 L230.00,249.74 L231.00,249.49 L232.00,249.24 L233.00,248.99 L234.00,248.75 L235.00,248.50 L236.00,248.26 L237.00,248.01 L238.00,247.77 L239.00,247.53 L240.00,247.29 L241.00,247.05 L242.00,246.81 L243.00,246.57 L244.00,246.33 L245.00,246.10 L246.00,245.87 L247.00,245.63 L248.00,245.40 L249.00,245.17 L250.00,244.93 L251.00,244.70 L252.00,244.47 L253.00,244.24 L254.00,244.02 L255.00,243.79 L256.00,243.57 L257.00,243.35 L258.00,243.13 L259.00,242.91 L260.00,242.70 L261.00,242.49 L262.00,242.28 L263.00,242.06 L264.00,241.86 L265.00,241.65 L266.00,241.45 L267.00,241.25 L268.00,241.06 L269.00,240.88 L270.00,240.70 L271.00,240.53 L272.00,240.36 L273.00,240.20 L274.00,240.04 L275.00,239.89 L276.00,239.74 L277.00,239.59 L278.00,239.45 L279.00,239.32 L280.00,239.20 L281.00,239.08 L282.00,238.97 L283.00,238.85 L284.00,238.75 L285.00,238.64 L286.00,238.54 L287.00,238.45 L288.00,238.36 L289.00,238.28 L290.00,238.20 L291.00,238.12 L292.00,238.04 L293.00,237.96 L294.00,237.88 L295.00,237.81 L296.00,237.74 L297.00,237.68 L298.00,237.64 L299.00,237.61 L300.00,237.60 L301.00,237.60 L302.00,237.61 L303.00,237.62 L304.00,237.64 L305.00,237.66 L306.00,237.68 L307.00,237.71 L308.00,237.73 L309.00,237.77 L310.00,237.80 L311.00,237.85 L312.00,237.94 L313.00,238.06 L314.00,238.20 L315.00,238.35 L316.00,238.52 L317.00,238.69 L318.00,238.87 L319.00,239.04 L320.00,239.20 L321.00,239.36 L322.00,239.51 L323.00,239.68 L324.00,239.84 L325.00,240.01 L326.00,240.18 L327.00,240.36 L328.00,240.54 L329.00,240.72 L330.00,240.90 L331.00,241.09 L332.00,241.27 L333.00,241.47 L334.00,241.66 L335.00,241.86 L336.00,242.06 L337.00,242.26 L338.00,242.47 L339.00,242.68 L340.00,242.90 L340.96,243.11 L341.93,243.32 L342.89,243.54 L343.85,243.76 L344.81,243.98 L345.77,244.20 L346.74,244.43 L347.70,244.66 L348.66,244.89 L349.62,245.13 L350.59,245.36 L351.55,245.61 L352.51,245.85 L353.47,246.10 L354.44,246.35 L355.40,246.60" fill="none" stroke="rgb(50,170,40)" stroke-width="1.50" stroke-linejoin="round" stroke-linecap="butt" />
<path d="M51.50,285.70 L52.47,285.90 L53.45,286.09 L54.42,286.29 L55.39,286.48 L56.37,286.66 L57.34,286.85 L58.32,287.03 L59.29,287.20 L60.26,287.38 L61.24,287.55 L62.21,287.71 L63.18,287.87 L64.16,288.03 L65.13,288.19 L66.11,288.34 L67.08,288.48 L68.05,288.63 L69.03,288.77 L70.00,288.90 L71.00,289.04 L72.00,289.17 L73.00,289.31 L74.00,289.44 L75.00,289.57 L76.00,289.70 L77.00,289.82 L78.00,289.94 L79.00,290.05 L80.00,290.16 L81.00,290.27 L82.00,290.36 L83.00,290.45 L84.00,290.53 L85.00,290.60 L86.00,290.67 L87.00,290.73 L88.00,290.80 L89.00,290.86 L90.00,290.93 L91.00,290.99 L92.00,291.05 L93.00,291.10 L94.00,291.15 L95.00,291.19 L96.00,291.23 L97.00,291.26 L98.00,291.28 L99.00,291.30 L100.00,291.30 L101.00,291.30 L102.00,291.29 L103.00,291.28 L104.00,291.26 L105.00,291.24 L106.00,291.22 L107.00,291.20 L108.00,291.17 L109.00,291.13 L110.00,291.10 L111.00,291.06 L112.00,291.02 L113.00,290.98 L114.00,290.94 L115.00,290.90 L116.00,290.85 L117.00,290.78 L118.00,290.71 L119.00,290.62 L120.00,290.52 L121.00,290.41 L122.00,290.29 L123.00,290.17 L124.00,290.04 L125.00,289.90 L126.00,289.76 L127.00,289.62 L128.00,289.48 L129.00,289.34 L130.00,289.20 L131.00,289.06 L132.00,288.91 L133.00,288.76 L134.00,288.60 L135.00,288.44 L136.00,288.28 L137.00,288.11 L138.00,287.93 L139.00,287.75 L140.00,287.56 L141.00,287.37 L142.00,287.18 L143.00,286.98 L144.00,286.77 L145.00,286.56 L146.00,286.35 L147.00,286.13 L148.00,285.90 L149.00,285.67 L150.00,285.42 L151.00,285.17 L152.00,284.91 L153.00,284.64 L154.00,284.36 L155.00,284.07 L156.00,283.77 L157.00,283.47 L158.00,283.16 L159.00,282.84 L160.00,282.51 L161.00,282.18 L162.00,281.84 L163.00,281.50 L164.00,281.15 L165.00,280.80 L166.00,280.44 L167.00,280.07 L168.00,279.68 L169.00,279.29 L170.00,278.88 L171.00,278.45 L172.00,278.01 L173.00,277.56 L174.00,277.09 L175.00,276.60 L176.00,276.07 L177.00,275.50 L178.00,274.90 L179.00,274.29 L180.00,273.70 L181.00,273.12 L182.00,272.55 L183.00,271.97 L184.00,271.39 L185.00,270.80 L186.00,270.20 L187.00,269.59 L188.00,268.97 L189.00,268.34 L190.00,267.70 L191.00,267.06 L192.00,266.41 L193.00,265.74 L194.00,265.05 L195.00,264.30 L196.00,263.48 L197.00,262.59 L198.00,261.66 L199.00,260.72 L200.00,259.80 L200.90,259.00 L201.80,258.20 L202.70,257.40 L203.60,256.60 L204.55,256.23 L205.50,255.86 L206.45,255.51 L207.40,255.16 L208.35,254.82 L209.30,254.49 L210.25,254.16 L211.20,253.85 L212.15,253.55 L213.10,253.26 L214.05,252.97 L215.00,252.70 L216.00,252.42 L217.00,252.15 L218.00,251.89 L219.00,251.64 L220.00,251.40 L221.00,251.16 L222.00,250.93 L223.00,250.71 L224.00,250.50 L225.00,250.30 L226.00,250.10 L227.00,249.91 L228.00,249.73 L229.00,249.55 L230.00,249.39 L231.00,249.23 L232.00,249.10 L233.00,248.98 L234.00,248.86 L235.00,248.75 L236.00,248.65 L237.00,248.57 L238.00,248.50 L239.00,248.44 L240.00,248.38 L241.00,248.32 L242.00,248.27 L243.00,248.23 L244.00,248.21 L245.00,248.20 L246.00,248.22 L247.00,248.29 L248.00,248.39 L249.00,248.50 L250.00,248.64 L251.00,248.77 L252.00,248.90 L253.00,249.03 L254.00,249.17 L255.00,249.32 L256.00,249.48 L257.00,249.65 L258.00,249.83 L259.00,250.01 L260.00,250.20 L261.00,250.40 L262.00,250.61 L263.00,250.84 L264.00,251.07 L265.00,251.31 L266.00,251.54 L267.00,251.78 L268.00,252.00 L268.93,252.20 L269.87,252.39 L270.80,252.57 L271.73,252.76 L272.67,252.94 L273.60,253.14 L274.53,253.34 L275.47,253.56 L276.40,253.80 L277.30,254.07 L278.20,254.37 L279.10,254.68 L280.00,255.00 L281.00,255.34 L282.00,255.69 L283.00,256.03 L284.00,256.37 L285.00,256.73 L286.00,257.08 L287.00,257.45 L288.00,257.82 L289.00,258.20 L290.00,258.60 L291.00,259.01 L292.00,259.44 L293.00,259.88 L294.00,260.34 L295.00,260.80 L296.00,261.27 L297.00,261.75 L298.00,262.23 L299.00,262.72 L300.00,263.20 L301.00,263.69 L302.00,264.19 L303.00,264.70 L304.00,265.21 L305.00,265.73 L306.00,266.25 L307.00,266.77 L308.00,267.28 L309.00,267.80 L310.00,268.30 L311.00,268.80 L312.00,269.30 L313.00,269.81 L314.00,270.31 L315.00,270.81 L316.00,271.30 L317.00,271.79 L318.00,272.27 L319.00,272.74 L320.00,273.20 L321.00,273.65 L322.00,274.09 L323.00,274.53 L324.00,274.96 L325.00,275.38 L326.00,275.80 L327.00,276.21 L328.00,276.61 L329.00,277.01 L330.00,277.40 L331.00,277.79 L332.00,278.17 L333.00,278.56 L334.00,278.94 L335.00,279.31 L336.00,279.67 L337.00,280.02 L338.00,280.36 L339.00,280.69 L340.00,281.00 L341.00,281.29 L342.00,281.57 L343.00,281.84 L344.00,282.10 L345.00,282.35 L346.00,282.60 L347.00,282.85 L348.00,283.09 L349.00,283.34 L350.00,283.60 L350.90,283.83 L351.80,284.07 L352.70,284.30 L353.60,284.53 L354.50,284.77 L355.40,285.00" fill="none" stroke="rgb(10,40,215)" stroke-width="1.50" stroke-linejoin="round" stroke-linecap="butt" />
<path d="M51.50,298.70 L355.40,298.70" fill="none" stroke="rgb(125,35,145)" stroke-width="1.50" stroke-linejoin="round" stroke-linecap="butt" />
</g>
<line x1="130.90" y1="298.40" x2="130.90" y2="226.50" stroke="#000" stroke-width="1.40" stroke-dasharray="3.3 3.3"/>
<line x1="203.60" y1="298.40" x2="203.60" y2="226.50" stroke="#000" stroke-width="1.40" stroke-dasharray="3.3 3.3"/>
<line x1="276.40" y1="298.40" x2="276.40" y2="226.50" stroke="#000" stroke-width="1.40" stroke-dasharray="3.3 3.3"/>
<rect x="165.20" y="222.15" width="77.80" height="12.00" fill="#fff"/>
<rect x="167.20" y="225.00" width="5.90" height="0.75" fill="#111"/>
<text x="174.10" y="228.85" font-family="Liberation Serif, serif" font-size="11.30" stroke="#000" stroke-width="0.12" textLength="10.80" lengthAdjust="spacingAndGlyphs">65</text>
<circle cx="187.20" cy="223.65" r="1.35" fill="none" stroke="#222" stroke-width="0.80"/>
<text x="194.10" y="228.85" font-family="Liberation Serif, serif" font-size="11.10" font-weight="bold" textLength="47.30" lengthAdjust="spacingAndGlyphs">Damping</text>
<text x="47.40" y="230.30" font-family="Liberation Serif, serif" font-size="10.30" text-anchor="end">100</text>
<text x="47.40" y="266.30" font-family="Liberation Serif, serif" font-size="10.30" text-anchor="end">50</text>
<text x="47.40" y="302.20" font-family="Liberation Serif, serif" font-size="10.30" text-anchor="end">0</text>
<text x="51.50" y="309.95" font-family="Liberation Serif, serif" font-size="10.50" text-anchor="middle">0</text>
<text x="81.89" y="309.95" font-family="Liberation Serif, serif" font-size="10.50" text-anchor="middle">0.1</text>
<text x="112.28" y="309.95" font-family="Liberation Serif, serif" font-size="10.50" text-anchor="middle">0.2</text>
<text x="142.67" y="309.95" font-family="Liberation Serif, serif" font-size="10.50" text-anchor="middle">0.3</text>
<text x="173.06" y="309.95" font-family="Liberation Serif, serif" font-size="10.50" text-anchor="middle">0.4</text>
<text x="203.45" y="309.95" font-family="Liberation Serif, serif" font-size="10.50" text-anchor="middle">0.5</text>
<text x="233.84" y="309.95" font-family="Liberation Serif, serif" font-size="10.50" text-anchor="middle">0.6</text>
<text x="264.23" y="309.95" font-family="Liberation Serif, serif" font-size="10.50" text-anchor="middle">0.7</text>
<text x="294.62" y="309.95" font-family="Liberation Serif, serif" font-size="10.50" text-anchor="middle">0.8</text>
<text x="325.01" y="309.95" font-family="Liberation Serif, serif" font-size="10.50" text-anchor="middle">0.9</text>
<text x="355.40" y="309.95" font-family="Liberation Serif, serif" font-size="10.50" text-anchor="middle">1</text>
<g transform="translate(15.40,298.38) rotate(-90)"><text font-family="Liberation Serif, serif" font-size="10.90" textLength="40.40" lengthAdjust="spacingAndGlyphs">Damping</text><text x="42.3" font-family="Liberation Serif, serif" font-size="10.90" textLength="16.90" lengthAdjust="spacingAndGlyphs">[N/(</text><text x="59.6" y="-2.6" font-family="Liberation Serif, serif" font-size="5.20">m</text><text x="63.7" y="0" font-family="Liberation Serif, serif" font-size="10.36">/</text><text x="67.8" y="0.2" font-family="Liberation Serif, serif" font-size="5.60">s</text><text x="70.4" font-family="Liberation Serif, serif" font-size="10.90" textLength="5.80" lengthAdjust="spacingAndGlyphs">)]</text></g>
<rect x="359.5" y="238.95" width="73.60" height="43.22" fill="#fff" stroke="#111" stroke-width="1.20"/>
<line x1="363.1" y1="247.65" x2="381.7" y2="247.65" stroke="rgb(10,40,215)" stroke-width="1.50"/>
<text x="384.90" y="250.85" font-family="Liberation Serif, serif" font-size="10.90" textLength="17.10" lengthAdjust="spacingAndGlyphs">Hip</text>
<line x1="363.1" y1="260.65" x2="381.7" y2="260.65" stroke="rgb(125,35,145)" stroke-width="1.50"/>
<text x="384.90" y="263.85" font-family="Liberation Serif, serif" font-size="10.90" textLength="22.30" lengthAdjust="spacingAndGlyphs">Knee</text>
<line x1="363.1" y1="273.65" x2="381.7" y2="273.65" stroke="rgb(50,170,40)" stroke-width="1.50"/>
<text x="384.90" y="276.85" font-family="Liberation Serif, serif" font-size="10.90" textLength="42.80" lengthAdjust="spacingAndGlyphs">Hip-Knee</text>
<line x1="81.89" y1="406.87" x2="81.89" y2="402.87" stroke="#d9d9d9" stroke-width="0.7"/>
<line x1="112.28" y1="406.87" x2="112.28" y2="402.87" stroke="#d9d9d9" stroke-width="0.7"/>
<line x1="142.67" y1="406.87" x2="142.67" y2="402.87" stroke="#d9d9d9" stroke-width="0.7"/>
<line x1="173.06" y1="406.87" x2="173.06" y2="402.87" stroke="#d9d9d9" stroke-width="0.7"/>
<line x1="203.45" y1="406.87" x2="203.45" y2="402.87" stroke="#d9d9d9" stroke-width="0.7"/>
<line x1="233.84" y1="406.87" x2="233.84" y2="402.87" stroke="#d9d9d9" stroke-width="0.7"/>
<line x1="264.23" y1="406.87" x2="264.23" y2="402.87" stroke="#d9d9d9" stroke-width="0.7"/>
<line x1="294.62" y1="406.87" x2="294.62" y2="402.87" stroke="#d9d9d9" stroke-width="0.7"/>
<line x1="325.01" y1="406.87" x2="325.01" y2="402.87" stroke="#d9d9d9" stroke-width="0.7"/>
<line x1="355.40" y1="406.87" x2="355.40" y2="402.87" stroke="#d9d9d9" stroke-width="0.7"/>
<line x1="51.50" y1="331.30" x2="55.50" y2="331.30" stroke="#d9d9d9" stroke-width="0.7"/>
<line x1="51.50" y1="350.20" x2="55.50" y2="350.20" stroke="#d9d9d9" stroke-width="0.7"/>
<line x1="51.50" y1="369.10" x2="55.50" y2="369.10" stroke="#d9d9d9" stroke-width="0.7"/>
<line x1="51.50" y1="388.00" x2="55.50" y2="388.00" stroke="#d9d9d9" stroke-width="0.7"/>
<line x1="51.50" y1="331.62" x2="51.50" y2="407.42" stroke="#000" stroke-width="1.10"/>
<line x1="50.95" y1="406.87" x2="355.80" y2="406.87" stroke="#000" stroke-width="1.10"/>
<g clip-path="url(#c3)">
<path d="M51.50,342.40 L52.44,342.93 L53.39,343.49 L54.33,344.06 L55.28,344.67 L56.22,345.29 L57.17,345.94 L58.11,346.61 L59.06,347.29 L60.00,348.00 L61.00,348.78 L62.00,349.60 L63.00,350.46 L64.00,351.35 L65.00,352.26 L66.00,353.20 L67.00,354.14 L68.00,355.09 L69.00,356.05 L70.00,357.00 L71.00,357.96 L72.00,358.94 L73.00,359.93 L74.00,360.93 L75.00,361.95 L76.00,362.96 L77.00,363.98 L78.00,365.00 L79.00,366.00 L80.00,367.00 L81.00,367.99 L82.00,368.99 L83.00,370.00 L84.00,371.00 L85.00,372.00 L86.00,372.99 L87.00,373.97 L88.00,374.93 L89.00,375.88 L90.00,376.80 L91.00,377.71 L92.00,378.60 L93.00,379.49 L94.00,380.36 L95.00,381.22 L96.00,382.07 L97.00,382.90 L98.00,383.72 L99.00,384.52 L100.00,385.30 L101.00,386.07 L102.00,386.85 L103.00,387.61 L104.00,388.36 L105.00,389.10 L106.00,389.82 L107.00,390.51 L108.00,391.18 L109.00,391.81 L110.00,392.40 L111.00,392.97 L112.00,393.52 L113.00,394.06 L114.00,394.58 L115.00,395.09 L116.00,395.57 L117.00,396.02 L118.00,396.44 L119.00,396.84 L120.00,397.20 L121.00,397.52 L122.00,397.80 L123.00,398.07 L124.00,398.33 L125.00,398.60 L125.98,398.89 L126.97,399.18 L127.95,399.47 L128.93,399.76 L129.92,400.04 L130.90,400.30 L131.84,400.54 L132.78,400.78 L133.72,401.02 L134.66,401.26 L135.60,401.49 L136.54,401.72 L137.48,401.94 L138.42,402.16 L139.36,402.37 L140.30,402.57 L141.24,402.76 L142.18,402.94 L143.12,403.11 L144.06,403.26 L145.00,403.40 L146.00,403.53 L147.00,403.66 L148.00,403.78 L149.00,403.90 L150.00,404.01 L151.00,404.12 L152.00,404.22 L153.00,404.32 L154.00,404.41 L155.00,404.50 L156.00,404.58 L157.00,404.67 L158.00,404.75 L159.00,404.82 L160.00,404.90 L161.00,404.97 L162.00,405.05 L163.00,405.11 L164.00,405.18 L165.00,405.25 L166.00,405.31 L167.00,405.37 L168.00,405.43 L169.00,405.49 L170.00,405.54 L171.00,405.60 L172.00,405.65 L173.00,405.70 L174.00,405.75 L175.00,405.80 L176.00,405.85 L177.00,405.89 L178.00,405.94 L179.00,405.98 L180.00,406.02 L181.00,406.07 L182.00,406.11 L183.00,406.15 L184.00,406.18 L185.00,406.22 L186.00,406.26 L187.00,406.30 L188.00,406.33 L189.00,406.37 L190.00,406.40 L190.97,406.43 L191.94,406.47 L192.91,406.51 L193.89,406.55 L194.86,406.58 L195.83,406.62 L196.80,406.66 L197.77,406.69 L198.74,406.72 L199.71,406.75 L200.69,406.77 L201.66,406.79 L202.63,406.80 L203.60,406.80 L204.60,406.80 L205.59,406.80 L206.59,406.80 L207.59,406.80 L208.59,406.80 L209.58,406.80 L210.58,406.80 L211.58,406.80 L212.58,406.80 L213.57,406.80 L214.57,406.80 L215.57,406.80 L216.56,406.80 L217.56,406.80 L218.56,406.80 L219.56,406.80 L220.55,406.80 L221.55,406.80 L222.55,406.80 L223.55,406.80 L224.54,406.80 L225.54,406.80 L226.54,406.80 L227.53,406.80 L228.53,406.80 L229.53,406.80 L230.53,406.80 L231.52,406.80 L232.52,406.80 L233.52,406.80 L234.52,406.80 L235.51,406.80 L236.51,406.80 L237.51,406.80 L238.50,406.80 L239.50,406.80 L240.50,406.80 L241.50,406.80 L242.49,406.80 L243.49,406.80 L244.49,406.80 L245.48,406.80 L246.48,406.80 L247.48,406.80 L248.48,406.80 L249.47,406.80 L250.47,406.80 L251.47,406.80 L252.47,406.80 L253.46,406.80 L254.46,406.80 L255.46,406.80 L256.45,406.80 L257.45,406.80 L258.45,406.80 L259.45,406.80 L260.44,406.80 L261.44,406.80 L262.44,406.80 L263.44,406.80 L264.43,406.80 L265.43,406.80 L266.43,406.80 L267.42,406.80 L268.42,406.80 L269.42,406.80 L270.42,406.80 L271.41,406.80 L272.41,406.80 L273.41,406.80 L274.41,406.80 L275.40,406.80 L276.40,406.80 L277.30,406.61 L278.20,406.14 L279.10,405.55 L280.00,405.00 L281.00,404.47 L282.00,403.93 L283.00,403.38 L284.00,402.81 L285.00,402.20 L286.00,401.55 L287.00,400.86 L288.00,400.14 L289.00,399.42 L290.00,398.70 L291.00,398.00 L292.00,397.30 L293.00,396.61 L294.00,395.92 L295.00,395.22 L296.00,394.51 L297.00,393.79 L298.00,393.05 L299.00,392.29 L300.00,391.50 L301.00,390.68 L302.00,389.83 L303.00,388.95 L304.00,388.05 L305.00,387.14 L306.00,386.20 L307.00,385.26 L308.00,384.31 L309.00,383.35 L310.00,382.40 L311.00,381.44 L312.00,380.47 L313.00,379.48 L314.00,378.49 L315.00,377.48 L316.00,376.47 L317.00,375.46 L318.00,374.44 L319.00,373.42 L320.00,372.40 L321.00,371.37 L322.00,370.33 L323.00,369.28 L324.00,368.23 L325.00,367.17 L326.00,366.12 L327.00,365.07 L328.00,364.03 L329.00,363.01 L330.00,362.00 L331.00,360.99 L332.00,359.98 L333.00,358.96 L334.00,357.95 L335.00,356.96 L336.00,355.98 L337.00,355.02 L338.00,354.11 L339.00,353.23 L340.00,352.40 L341.00,351.61 L342.00,350.84 L343.00,350.10 L344.00,349.38 L345.00,348.68 L346.00,348.00 L347.00,347.34 L348.00,346.71 L349.00,346.09 L350.00,345.50 L350.90,344.98 L351.80,344.49 L352.70,344.02 L353.60,343.56 L354.50,343.12 L355.40,342.70" fill="none" stroke="rgb(125,35,145)" stroke-width="1.50" stroke-linejoin="round" stroke-linecap="butt" />
<path d="M51.50,406.60 L52.44,406.60 L53.39,406.59 L54.33,406.59 L55.28,406.58 L56.22,406.56 L57.17,406.55 L58.11,406.53 L59.06,406.52 L60.00,406.50 L61.00,406.48 L62.00,406.45 L63.00,406.41 L64.00,406.37 L65.00,406.32 L66.00,406.27 L67.00,406.21 L68.00,406.14 L69.00,406.07 L70.00,406.00 L71.00,405.91 L72.00,405.80 L73.00,405.67 L74.00,405.52 L75.00,405.36 L76.00,405.19 L77.00,405.02 L78.00,404.84 L79.00,404.67 L80.00,404.50 L81.00,404.33 L82.00,404.15 L83.00,403.97 L84.00,403.78 L85.00,403.59 L86.00,403.40 L87.00,403.22 L88.00,403.04 L89.00,402.86 L90.00,402.70 L91.00,402.55 L92.00,402.40 L93.00,402.25 L94.00,402.11 L95.00,401.97 L96.00,401.84 L97.00,401.70 L98.00,401.57 L99.00,401.43 L100.00,401.30 L101.00,401.16 L102.00,401.02 L103.00,400.88 L104.00,400.74 L105.00,400.61 L106.00,400.47 L107.00,400.34 L108.00,400.22 L109.00,400.10 L110.00,400.00 L111.00,399.90 L112.00,399.80 L113.00,399.70 L114.00,399.60 L115.00,399.51 L116.00,399.43 L117.00,399.35 L118.00,399.29 L119.00,399.24 L120.00,399.20 L120.99,399.17 L121.98,399.14 L122.97,399.12 L123.96,399.09 L124.95,399.07 L125.95,399.05 L126.94,399.03 L127.93,399.02 L128.92,399.01 L129.91,399.00 L130.90,399.00 L131.84,399.01 L132.78,399.02 L133.72,399.05 L134.66,399.08 L135.60,399.13 L136.54,399.18 L137.48,399.24 L138.42,399.30 L139.36,399.37 L140.30,399.44 L141.24,399.51 L142.18,399.58 L143.12,399.65 L144.06,399.73 L145.00,399.80 L146.00,399.88 L147.00,399.96 L148.00,400.06 L149.00,400.15 L150.00,400.26 L151.00,400.36 L152.00,400.48 L153.00,400.59 L154.00,400.71 L155.00,400.84 L156.00,400.97 L157.00,401.10 L158.00,401.23 L159.00,401.36 L160.00,401.50 L161.00,401.64 L162.00,401.80 L163.00,401.96 L164.00,402.14 L165.00,402.32 L166.00,402.50 L167.00,402.69 L168.00,402.88 L169.00,403.06 L170.00,403.25 L171.00,403.43 L172.00,403.61 L173.00,403.78 L174.00,403.95 L175.00,404.10 L176.00,404.25 L177.00,404.39 L178.00,404.52 L179.00,404.66 L180.00,404.79 L181.00,404.92 L182.00,405.04 L183.00,405.16 L184.00,405.28 L185.00,405.40 L185.96,405.51 L186.93,405.63 L187.89,405.74 L188.85,405.85 L189.81,405.95 L190.77,406.05 L191.74,406.13 L192.70,406.20 L193.69,406.26 L194.68,406.33 L195.67,406.39 L196.66,406.45 L197.65,406.51 L198.65,406.56 L199.64,406.61 L200.63,406.65 L201.62,406.68 L202.61,406.69 L203.60,406.70 L204.57,406.70 L205.55,406.69 L206.52,406.68 L207.49,406.67 L208.46,406.65 L209.44,406.63 L210.41,406.61 L211.38,406.59 L212.35,406.56 L213.33,406.54 L214.30,406.51 L215.27,406.48 L216.25,406.45 L217.22,406.42 L218.19,406.39 L219.16,406.36 L220.14,406.33 L221.11,406.30 L222.08,406.27 L223.05,406.25 L224.03,406.22 L225.00,406.20 L226.00,406.18 L227.00,406.15 L228.00,406.13 L229.00,406.10 L230.00,406.08 L231.00,406.05 L232.00,406.02 L233.00,406.00 L234.00,405.97 L235.00,405.95 L236.00,405.92 L237.00,405.90 L238.00,405.88 L239.00,405.86 L240.00,405.84 L241.00,405.83 L242.00,405.82 L243.00,405.81 L244.00,405.80 L245.00,405.80 L246.00,405.80 L247.00,405.81 L248.00,405.81 L249.00,405.82 L250.00,405.84 L251.00,405.85 L252.00,405.87 L253.00,405.88 L254.00,405.90 L255.00,405.93 L256.00,405.95 L257.00,405.97 L258.00,406.00 L259.00,406.02 L260.00,406.05 L261.00,406.07 L262.00,406.10 L262.96,406.13 L263.92,406.17 L264.88,406.22 L265.84,406.28 L266.80,406.34 L267.76,406.40 L268.72,406.47 L269.68,406.53 L270.64,406.59 L271.60,406.65 L272.56,406.70 L273.52,406.74 L274.48,406.77 L275.44,406.79 L276.40,406.80 L277.40,406.80 L278.40,406.80 L279.40,406.80 L280.40,406.80 L281.40,406.80 L282.40,406.80 L283.40,406.80 L284.40,406.80 L285.40,406.80 L286.40,406.80 L287.40,406.80 L288.40,406.80 L289.40,406.80 L290.40,406.80 L291.40,406.80 L292.40,406.80 L293.40,406.80 L294.40,406.80 L295.40,406.80 L296.40,406.80 L297.40,406.80 L298.40,406.80 L299.40,406.80 L300.40,406.80 L301.40,406.80 L302.40,406.80 L303.40,406.80 L304.40,406.80 L305.40,406.80 L306.40,406.80 L307.40,406.80 L308.40,406.80 L309.40,406.80 L310.40,406.80 L311.40,406.80 L312.40,406.80 L313.40,406.80 L314.40,406.80 L315.40,406.80 L316.40,406.80 L317.40,406.80 L318.40,406.80 L319.40,406.80 L320.40,406.80 L321.40,406.80 L322.40,406.80 L323.40,406.80 L324.40,406.80 L325.40,406.80 L326.40,406.80 L327.40,406.80 L328.40,406.80 L329.40,406.80 L330.40,406.80 L331.40,406.80 L332.40,406.80 L333.40,406.80 L334.40,406.80 L335.40,406.80 L336.40,406.80 L337.40,406.80 L338.40,406.80 L339.40,406.80 L340.40,406.80 L341.40,406.80 L342.40,406.80 L343.40,406.80 L344.40,406.80 L345.40,406.80 L346.40,406.80 L347.40,406.80 L348.40,406.80 L349.40,406.80 L350.40,406.80 L351.40,406.80 L352.40,406.80 L353.40,406.80 L354.40,406.80 L355.40,406.80" fill="none" stroke="rgb(10,40,215)" stroke-width="1.50" stroke-linejoin="round" stroke-linecap="butt" />
<path d="M51.50,406.80 L203.60,406.80 L204.51,406.77 L205.43,406.72 L206.34,406.65 L207.26,406.55 L208.17,406.44 L209.09,406.32 L210.00,406.20 L211.00,406.03 L212.00,405.81 L213.00,405.55 L214.00,405.27 L215.00,405.00 L216.00,404.73 L217.00,404.44 L218.00,404.14 L219.00,403.83 L220.00,403.50 L221.00,403.15 L222.00,402.78 L223.00,402.40 L224.00,402.00 L225.00,401.60 L226.00,401.20 L227.00,400.80 L228.00,400.38 L229.00,399.95 L230.00,399.50 L231.00,399.02 L232.00,398.52 L233.00,397.99 L234.00,397.45 L235.00,396.90 L236.00,396.34 L237.00,395.77 L238.00,395.21 L239.00,394.65 L240.00,394.10 L241.00,393.55 L242.00,393.00 L243.00,392.45 L244.00,391.90 L245.00,391.35 L246.00,390.80 L247.00,390.25 L248.00,389.70 L249.00,389.15 L250.00,388.60 L251.00,388.05 L252.00,387.49 L253.00,386.92 L254.00,386.36 L255.00,385.79 L256.00,385.24 L257.00,384.70 L258.00,384.18 L259.00,383.67 L260.00,383.20 L261.00,382.75 L262.00,382.30 L263.00,381.87 L264.00,381.45 L265.00,381.05 L266.00,380.65 L267.00,380.27 L268.00,379.90 L269.00,379.54 L270.00,379.20 L270.91,378.90 L271.83,378.61 L272.74,378.34 L273.66,378.07 L274.57,377.81 L275.49,377.55 L276.40,377.30 L277.34,377.03 L278.29,376.74 L279.23,376.45 L280.17,376.18 L281.11,375.94 L282.06,375.74 L283.00,375.60 L284.00,375.49 L285.00,375.39 L286.00,375.29 L287.00,375.21 L288.00,375.15 L289.00,375.11 L290.00,375.10 L291.00,375.12 L292.00,375.18 L293.00,375.26 L294.00,375.38 L295.00,375.52 L296.00,375.68 L297.00,375.85 L298.00,376.03 L299.00,376.21 L300.00,376.40 L301.00,376.60 L302.00,376.84 L303.00,377.12 L304.00,377.42 L305.00,377.74 L306.00,378.08 L307.00,378.45 L308.00,378.82 L309.00,379.21 L310.00,379.60 L311.00,380.01 L312.00,380.46 L313.00,380.94 L314.00,381.44 L315.00,381.96 L316.00,382.50 L317.00,383.05 L318.00,383.60 L319.00,384.15 L320.00,384.70 L321.00,385.25 L322.00,385.80 L323.00,386.37 L324.00,386.94 L325.00,387.52 L326.00,388.10 L327.00,388.69 L328.00,389.29 L329.00,389.89 L330.00,390.50 L331.00,391.12 L332.00,391.75 L333.00,392.39 L334.00,393.03 L335.00,393.69 L336.00,394.34 L337.00,394.99 L338.00,395.64 L339.00,396.27 L340.00,396.90 L341.00,397.52 L342.00,398.13 L343.00,398.74 L344.00,399.34 L345.00,399.94 L346.00,400.54 L347.00,401.13 L348.00,401.72 L349.00,402.31 L350.00,402.90 L350.90,403.42 L351.80,403.95 L352.70,404.46 L353.60,404.98 L354.50,405.49 L355.40,406.00" fill="none" stroke="rgb(50,170,40)" stroke-width="1.50" stroke-linejoin="round" stroke-linecap="butt" />
</g>
<line x1="130.90" y1="406.87" x2="130.90" y2="331.30" stroke="#000" stroke-width="1.40" stroke-dasharray="3.3 3.3"/>
<line x1="203.60" y1="406.87" x2="203.60" y2="331.30" stroke="#000" stroke-width="1.40" stroke-dasharray="3.3 3.3"/>
<line x1="276.40" y1="406.87" x2="276.40" y2="331.30" stroke="#000" stroke-width="1.40" stroke-dasharray="3.3 3.3"/>
<rect x="158.40" y="330.62" width="91.00" height="12.00" fill="#fff"/>
<text x="160.00" y="337.40" font-family="Liberation Serif, serif" font-size="11.10" font-weight="bold" textLength="87.80" lengthAdjust="spacingAndGlyphs">Vertical Damping</text>
<text x="47.40" y="335.10" font-family="Liberation Serif, serif" font-size="10.30" text-anchor="end">40</text>
<text x="47.40" y="354.00" font-family="Liberation Serif, serif" font-size="10.30" text-anchor="end">30</text>
<text x="47.40" y="372.90" font-family="Liberation Serif, serif" font-size="10.30" text-anchor="end">20</text>
<text x="47.40" y="391.80" font-family="Liberation Serif, serif" font-size="10.30" text-anchor="end">10</text>
<text x="47.40" y="410.70" font-family="Liberation Serif, serif" font-size="10.30" text-anchor="end">0</text>
<text x="51.50" y="418.42" font-family="Liberation Serif, serif" font-size="10.50" text-anchor="middle">0</text>
<text x="81.89" y="418.42" font-family="Liberation Serif, serif" font-size="10.50" text-anchor="middle">0.1</text>
<text x="112.28" y="418.42" font-family="Liberation Serif, serif" font-size="10.50" text-anchor="middle">0.2</text>
<text x="142.67" y="418.42" font-family="Liberation Serif, serif" font-size="10.50" text-anchor="middle">0.3</text>
<text x="173.06" y="418.42" font-family="Liberation Serif, serif" font-size="10.50" text-anchor="middle">0.4</text>
<text x="203.45" y="418.42" font-family="Liberation Serif, serif" font-size="10.50" text-anchor="middle">0.5</text>
<text x="233.84" y="418.42" font-family="Liberation Serif, serif" font-size="10.50" text-anchor="middle">0.6</text>
<text x="264.23" y="418.42" font-family="Liberation Serif, serif" font-size="10.50" text-anchor="middle">0.7</text>
<text x="294.62" y="418.42" font-family="Liberation Serif, serif" font-size="10.50" text-anchor="middle">0.8</text>
<text x="325.01" y="418.42" font-family="Liberation Serif, serif" font-size="10.50" text-anchor="middle">0.9</text>
<text x="355.40" y="418.42" font-family="Liberation Serif, serif" font-size="10.50" text-anchor="middle">1</text>
<g transform="translate(15.40,406.85) rotate(-90)"><text font-family="Liberation Serif, serif" font-size="10.90" textLength="40.40" lengthAdjust="spacingAndGlyphs">Damping</text><text x="42.3" font-family="Liberation Serif, serif" font-size="10.90" textLength="16.90" lengthAdjust="spacingAndGlyphs">[N/(</text><text x="59.6" y="-2.6" font-family="Liberation Serif, serif" font-size="5.20">m</text><text x="63.7" y="0" font-family="Liberation Serif, serif" font-size="10.36">/</text><text x="67.8" y="0.2" font-family="Liberation Serif, serif" font-size="5.60">s</text><text x="70.4" font-family="Liberation Serif, serif" font-size="10.90" textLength="5.80" lengthAdjust="spacingAndGlyphs">)]</text></g>
<rect x="359.5" y="347.42" width="73.60" height="43.23" fill="#fff" stroke="#111" stroke-width="1.20"/>
<line x1="363.1" y1="356.12" x2="381.7" y2="356.12" stroke="rgb(10,40,215)" stroke-width="1.50"/>
<text x="384.90" y="359.32" font-family="Liberation Serif, serif" font-size="10.90" textLength="17.10" lengthAdjust="spacingAndGlyphs">Hip</text>
<line x1="363.1" y1="369.12" x2="381.7" y2="369.12" stroke="rgb(125,35,145)" stroke-width="1.50"/>
<text x="384.90" y="372.32" font-family="Liberation Serif, serif" font-size="10.90" textLength="22.30" lengthAdjust="spacingAndGlyphs">Knee</text>
<line x1="363.1" y1="382.12" x2="381.7" y2="382.12" stroke="rgb(50,170,40)" stroke-width="1.50"/>
<text x="384.90" y="385.32" font-family="Liberation Serif, serif" font-size="10.90" textLength="42.80" lengthAdjust="spacingAndGlyphs">Hip-Knee</text>
<line x1="81.89" y1="515.35" x2="81.89" y2="511.35" stroke="#d9d9d9" stroke-width="0.7"/>
<line x1="112.28" y1="515.35" x2="112.28" y2="511.35" stroke="#d9d9d9" stroke-width="0.7"/>
<line x1="142.67" y1="515.35" x2="142.67" y2="511.35" stroke="#d9d9d9" stroke-width="0.7"/>
<line x1="173.06" y1="515.35" x2="173.06" y2="511.35" stroke="#d9d9d9" stroke-width="0.7"/>
<line x1="203.45" y1="515.35" x2="203.45" y2="511.35" stroke="#d9d9d9" stroke-width="0.7"/>
<line x1="233.84" y1="515.35" x2="233.84" y2="511.35" stroke="#d9d9d9" stroke-width="0.7"/>
<line x1="264.23" y1="515.35" x2="264.23" y2="511.35" stroke="#d9d9d9" stroke-width="0.7"/>
<line x1="294.62" y1="515.35" x2="294.62" y2="511.35" stroke="#d9d9d9" stroke-width="0.7"/>
<line x1="325.01" y1="515.35" x2="325.01" y2="511.35" stroke="#d9d9d9" stroke-width="0.7"/>
<line x1="355.40" y1="515.35" x2="355.40" y2="511.35" stroke="#d9d9d9" stroke-width="0.7"/>
<line x1="51.50" y1="446.70" x2="55.50" y2="446.70" stroke="#d9d9d9" stroke-width="0.7"/>
<line x1="51.50" y1="481.00" x2="55.50" y2="481.00" stroke="#d9d9d9" stroke-width="0.7"/>
<line x1="51.50" y1="440.10" x2="51.50" y2="515.90" stroke="#000" stroke-width="1.10"/>
<line x1="50.95" y1="515.35" x2="355.80" y2="515.35" stroke="#000" stroke-width="1.10"/>
<g clip-path="url(#c4)">
<path d="M51.50,488.20 L52.47,487.84 L53.45,487.49 L54.42,487.14 L55.39,486.79 L56.37,486.44 L57.34,486.10 L58.32,485.75 L59.29,485.41 L60.26,485.07 L61.24,484.74 L62.21,484.40 L63.18,484.07 L64.16,483.74 L65.13,483.41 L66.11,483.08 L67.08,482.76 L68.05,482.44 L69.03,482.12 L70.00,481.80 L71.00,481.48 L72.00,481.15 L73.00,480.83 L74.00,480.50 L75.00,480.18 L76.00,479.86 L77.00,479.54 L78.00,479.23 L79.00,478.91 L80.00,478.60 L81.00,478.29 L82.00,477.99 L83.00,477.69 L84.00,477.39 L85.00,477.10 L86.00,476.81 L87.00,476.52 L88.00,476.24 L89.00,475.97 L90.00,475.70 L91.00,475.43 L92.00,475.17 L93.00,474.90 L94.00,474.64 L95.00,474.38 L96.00,474.12 L97.00,473.86 L98.00,473.61 L99.00,473.36 L100.00,473.12 L101.00,472.87 L102.00,472.64 L103.00,472.41 L104.00,472.18 L105.00,471.97 L106.00,471.76 L107.00,471.56 L108.00,471.36 L109.00,471.18 L110.00,471.00 L111.00,470.83 L112.00,470.66 L113.00,470.49 L114.00,470.32 L115.00,470.15 L116.00,469.99 L117.00,469.83 L118.00,469.67 L119.00,469.52 L120.00,469.37 L121.00,469.23 L122.00,469.09 L123.00,468.97 L124.00,468.84 L125.00,468.73 L126.00,468.63 L127.00,468.53 L128.00,468.44 L129.00,468.37 L130.00,468.30 L131.00,468.24 L132.00,468.18 L133.00,468.12 L134.00,468.07 L135.00,468.01 L136.00,467.96 L137.00,467.91 L138.00,467.87 L139.00,467.82 L140.00,467.79 L141.00,467.76 L142.00,467.73 L143.00,467.72 L144.00,467.70 L145.00,467.70 L146.00,467.71 L147.00,467.72 L148.00,467.75 L149.00,467.78 L150.00,467.82 L151.00,467.87 L152.00,467.92 L153.00,467.99 L154.00,468.06 L155.00,468.13 L156.00,468.21 L157.00,468.29 L158.00,468.37 L159.00,468.46 L160.00,468.55 L161.00,468.64 L162.00,468.73 L163.00,468.82 L164.00,468.91 L165.00,469.00 L166.00,469.09 L167.00,469.20 L168.00,469.32 L169.00,469.44 L170.00,469.57 L171.00,469.71 L172.00,469.86 L173.00,470.01 L174.00,470.16 L175.00,470.32 L176.00,470.47 L177.00,470.63 L178.00,470.79 L179.00,470.95 L180.00,471.10 L181.00,471.25 L182.00,471.40 L183.00,471.54 L184.00,471.67 L185.00,471.80 L186.00,471.92 L187.00,472.02 L188.00,472.13 L189.00,472.23 L190.00,472.33 L191.00,472.43 L192.00,472.54 L193.00,472.66 L194.00,472.80 L194.96,472.95 L195.92,473.11 L196.88,473.28 L197.84,473.47 L198.80,473.66 L199.76,473.87 L200.72,474.09 L201.68,474.32 L202.64,474.56 L203.60,474.80 L204.56,475.08 L205.53,475.35 L206.49,475.63 L207.46,475.91 L208.42,476.18 L209.39,476.46 L210.35,476.74 L211.32,477.03 L212.28,477.31 L213.25,477.59 L214.21,477.88 L215.18,478.16 L216.14,478.45 L217.11,478.73 L218.07,479.02 L219.04,479.31 L220.00,479.60 L221.00,479.90 L222.00,480.21 L223.00,480.52 L224.00,480.83 L225.00,481.14 L226.00,481.46 L227.00,481.77 L228.00,482.09 L229.00,482.41 L230.00,482.72 L231.00,483.04 L232.00,483.36 L233.00,483.67 L234.00,483.98 L235.00,484.29 L236.00,484.60 L237.00,484.91 L238.00,485.21 L239.00,485.51 L240.00,485.80 L241.00,486.09 L242.00,486.38 L243.00,486.67 L244.00,486.96 L245.00,487.25 L246.00,487.54 L247.00,487.83 L248.00,488.11 L249.00,488.39 L250.00,488.67 L251.00,488.95 L252.00,489.23 L253.00,489.50 L254.00,489.77 L255.00,490.03 L256.00,490.30 L257.00,490.55 L258.00,490.81 L259.00,491.06 L260.00,491.30 L261.00,491.54 L262.00,491.77 L263.00,491.99 L264.00,492.21 L265.00,492.43 L266.00,492.64 L267.00,492.85 L268.00,493.07 L269.00,493.28 L270.00,493.50 L270.91,493.70 L271.83,493.92 L272.74,494.13 L273.66,494.34 L274.57,494.54 L275.49,494.73 L276.40,494.90 L277.37,495.07 L278.33,495.24 L279.30,495.41 L280.27,495.57 L281.23,495.73 L282.20,495.88 L283.17,496.02 L284.13,496.16 L285.10,496.28 L286.07,496.40 L287.03,496.51 L288.00,496.60 L289.00,496.69 L290.00,496.79 L291.00,496.88 L292.00,496.97 L293.00,497.06 L294.00,497.14 L295.00,497.21 L296.00,497.27 L297.00,497.33 L298.00,497.37 L299.00,497.39 L300.00,497.40 L301.00,497.40 L302.00,497.39 L303.00,497.38 L304.00,497.37 L305.00,497.35 L306.00,497.33 L307.00,497.31 L308.00,497.28 L309.00,497.26 L310.00,497.23 L311.00,497.20 L312.00,497.16 L313.00,497.11 L314.00,497.05 L315.00,496.98 L316.00,496.89 L317.00,496.80 L318.00,496.71 L319.00,496.61 L320.00,496.50 L321.00,496.40 L322.00,496.29 L323.00,496.17 L324.00,496.03 L325.00,495.89 L326.00,495.74 L327.00,495.58 L328.00,495.41 L329.00,495.25 L330.00,495.07 L331.00,494.90 L331.96,494.73 L332.93,494.55 L333.89,494.37 L334.85,494.18 L335.82,493.99 L336.78,493.79 L337.75,493.58 L338.71,493.37 L339.67,493.15 L340.64,492.93 L341.60,492.70 L342.59,492.46 L343.57,492.21 L344.56,491.95 L345.54,491.68 L346.53,491.40 L347.51,491.12 L348.50,490.83 L349.49,490.53 L350.47,490.23 L351.46,489.92 L352.44,489.60 L353.43,489.27 L354.41,488.94 L355.40,488.60" fill="none" stroke="rgb(10,40,215)" stroke-width="1.50" stroke-linejoin="round" stroke-linecap="butt" />
<path d="M51.50,515.00 L52.44,515.00 L53.39,515.00 L54.33,515.00 L55.28,515.00 L56.22,515.00 L57.17,515.00 L58.11,515.00 L59.06,515.00 L60.00,515.00 L61.00,514.99 L62.00,514.97 L63.00,514.93 L64.00,514.89 L65.00,514.85 L66.00,514.80 L67.00,514.75 L68.00,514.69 L69.00,514.62 L70.00,514.55 L71.00,514.47 L72.00,514.39 L73.00,514.30 L74.00,514.21 L75.00,514.11 L76.00,514.00 L77.00,513.88 L78.00,513.76 L79.00,513.63 L80.00,513.50 L81.00,513.36 L82.00,513.21 L83.00,513.05 L84.00,512.89 L85.00,512.72 L86.00,512.54 L87.00,512.36 L88.00,512.18 L89.00,511.99 L90.00,511.80 L91.00,511.61 L92.00,511.41 L93.00,511.20 L94.00,511.00 L95.00,510.78 L96.00,510.57 L97.00,510.35 L98.00,510.13 L99.00,509.90 L100.00,509.67 L101.00,509.44 L102.00,509.21 L103.00,508.97 L104.00,508.73 L105.00,508.50 L106.00,508.26 L107.00,508.02 L108.00,507.78 L109.00,507.54 L110.00,507.30 L111.00,507.06 L112.00,506.81 L113.00,506.57 L114.00,506.32 L115.00,506.06 L116.00,505.81 L117.00,505.55 L118.00,505.29 L119.00,505.03 L120.00,504.77 L121.00,504.51 L122.00,504.25 L123.00,503.99 L124.00,503.73 L125.00,503.47 L126.00,503.21 L127.00,502.95 L128.00,502.70 L129.00,502.45 L130.00,502.20 L131.00,501.96 L132.00,501.71 L133.00,501.48 L134.00,501.24 L135.00,501.01 L136.00,500.78 L137.00,500.54 L138.00,500.31 L139.00,500.08 L140.00,499.84 L141.00,499.60 L142.00,499.36 L143.00,499.11 L144.00,498.86 L145.00,498.60 L146.00,498.34 L147.00,498.07 L148.00,497.80 L149.00,497.53 L150.00,497.25 L151.00,496.98 L152.00,496.69 L153.00,496.41 L154.00,496.12 L155.00,495.83 L156.00,495.54 L157.00,495.25 L158.00,494.95 L159.00,494.65 L160.00,494.35 L161.00,494.04 L162.00,493.74 L163.00,493.43 L164.00,493.11 L165.00,492.80 L166.00,492.48 L167.00,492.17 L168.00,491.85 L169.00,491.53 L170.00,491.21 L171.00,490.89 L172.00,490.57 L173.00,490.24 L174.00,489.91 L175.00,489.57 L176.00,489.23 L177.00,488.89 L178.00,488.54 L179.00,488.18 L180.00,487.82 L181.00,487.45 L182.00,487.08 L183.00,486.69 L184.00,486.30 L185.00,485.90 L186.00,485.49 L187.00,485.05 L188.00,484.61 L189.00,484.14 L190.00,483.67 L191.00,483.19 L192.00,482.70 L193.00,482.20 L194.00,481.70 L194.96,481.21 L195.92,480.72 L196.88,480.22 L197.84,479.71 L198.80,479.20 L199.76,478.67 L200.72,478.14 L201.68,477.60 L202.64,477.05 L203.60,476.50 L204.45,477.73 L205.30,478.94 L206.15,480.13 L207.00,481.30 L208.00,482.68 L209.00,484.03 L210.00,485.30 L211.00,486.49 L212.00,487.64 L213.00,488.73 L214.00,489.79 L215.00,490.80 L216.00,491.77 L217.00,492.70 L218.00,493.60 L219.00,494.46 L220.00,495.30 L221.00,496.12 L222.00,496.93 L223.00,497.73 L224.00,498.52 L225.00,499.29 L226.00,500.03 L227.00,500.75 L228.00,501.44 L229.00,502.09 L230.00,502.70 L231.00,503.28 L232.00,503.83 L233.00,504.36 L234.00,504.87 L235.00,505.36 L236.00,505.83 L237.00,506.29 L238.00,506.74 L239.00,507.17 L240.00,507.60 L241.00,508.02 L242.00,508.43 L243.00,508.84 L244.00,509.24 L245.00,509.62 L246.00,509.99 L247.00,510.35 L248.00,510.69 L249.00,511.00 L250.00,511.30 L251.00,511.58 L252.00,511.85 L253.00,512.11 L254.00,512.36 L255.00,512.60 L256.00,512.82 L257.00,513.04 L258.00,513.24 L259.00,513.43 L260.00,513.60 L261.00,513.76 L262.00,513.92 L263.00,514.06 L264.00,514.20 L265.00,514.34 L266.00,514.46 L267.00,514.58 L268.00,514.70 L269.00,514.80 L270.00,514.90 L270.91,514.99 L271.83,515.09 L272.74,515.18 L273.66,515.27 L274.57,515.34 L275.49,515.38 L276.40,515.40 L277.40,515.40 L278.40,515.40 L279.40,515.40 L280.40,515.40 L281.40,515.40 L282.40,515.40 L283.40,515.40 L284.40,515.40 L285.40,515.40 L286.40,515.40 L287.40,515.40 L288.40,515.40 L289.40,515.40 L290.40,515.40 L291.40,515.40 L292.40,515.40 L293.40,515.40 L294.40,515.40 L295.40,515.40 L296.40,515.40 L297.40,515.40 L298.40,515.40 L299.40,515.40 L300.40,515.40 L301.40,515.40 L302.40,515.40 L303.40,515.40 L304.40,515.40 L305.40,515.40 L306.40,515.40 L307.40,515.40 L308.40,515.40 L309.40,515.40 L310.40,515.40 L311.40,515.40 L312.40,515.40 L313.40,515.40 L314.40,515.40 L315.40,515.40 L316.40,515.40 L317.40,515.40 L318.40,515.40 L319.40,515.40 L320.40,515.40 L321.40,515.40 L322.40,515.40 L323.40,515.40 L324.40,515.40 L325.40,515.40 L326.40,515.40 L327.40,515.40 L328.40,515.40 L329.40,515.40 L330.40,515.40 L331.40,515.40 L332.40,515.40 L333.40,515.40 L334.40,515.40 L335.40,515.40 L336.40,515.40 L337.40,515.40 L338.40,515.40 L339.40,515.40 L340.40,515.40 L341.40,515.40 L342.40,515.40 L343.40,515.40 L344.40,515.40 L345.40,515.40 L346.40,515.40 L347.40,515.40 L348.40,515.40 L349.40,515.40 L350.40,515.40 L351.40,515.40 L352.40,515.40 L353.40,515.40 L354.40,515.40 L355.40,515.40" fill="none" stroke="rgb(50,170,40)" stroke-width="1.50" stroke-linejoin="round" stroke-linecap="butt" />
<path d="M51.50,515.60 L52.50,515.60 L53.50,515.60 L54.49,515.60 L55.49,515.60 L56.49,515.60 L57.49,515.60 L58.48,515.60 L59.48,515.60 L60.48,515.60 L61.48,515.60 L62.48,515.60 L63.47,515.60 L64.47,515.60 L65.47,515.60 L66.47,515.60 L67.47,515.60 L68.46,515.60 L69.46,515.60 L70.46,515.60 L71.46,515.60 L72.45,515.60 L73.45,515.60 L74.45,515.60 L75.45,515.60 L76.45,515.60 L77.44,515.60 L78.44,515.60 L79.44,515.60 L80.44,515.60 L81.43,515.60 L82.43,515.60 L83.43,515.60 L84.43,515.60 L85.43,515.60 L86.42,515.60 L87.42,515.60 L88.42,515.60 L89.42,515.60 L90.41,515.60 L91.41,515.60 L92.41,515.60 L93.41,515.60 L94.41,515.60 L95.40,515.60 L96.40,515.60 L97.40,515.60 L98.40,515.60 L99.40,515.60 L100.39,515.60 L101.39,515.60 L102.39,515.60 L103.39,515.60 L104.38,515.60 L105.38,515.60 L106.38,515.60 L107.38,515.60 L108.38,515.60 L109.37,515.60 L110.37,515.60 L111.37,515.60 L112.37,515.60 L113.36,515.60 L114.36,515.60 L115.36,515.60 L116.36,515.60 L117.36,515.60 L118.35,515.60 L119.35,515.60 L120.35,515.60 L121.35,515.60 L122.34,515.60 L123.34,515.60 L124.34,515.60 L125.34,515.60 L126.34,515.60 L127.33,515.60 L128.33,515.60 L129.33,515.60 L130.33,515.60 L131.33,515.60 L132.32,515.60 L133.32,515.60 L134.32,515.60 L135.32,515.60 L136.31,515.60 L137.31,515.60 L138.31,515.60 L139.31,515.60 L140.31,515.60 L141.30,515.60 L142.30,515.60 L143.30,515.60 L144.30,515.60 L145.29,515.60 L146.29,515.60 L147.29,515.60 L148.29,515.60 L149.29,515.60 L150.28,515.60 L151.28,515.60 L152.28,515.60 L153.28,515.60 L154.28,515.60 L155.27,515.60 L156.27,515.60 L157.27,515.60 L158.27,515.60 L159.26,515.60 L160.26,515.60 L161.26,515.60 L162.26,515.60 L163.26,515.60 L164.25,515.60 L165.25,515.60 L166.25,515.60 L167.25,515.60 L168.24,515.60 L169.24,515.60 L170.24,515.60 L171.24,515.60 L172.24,515.60 L173.23,515.60 L174.23,515.60 L175.23,515.60 L176.23,515.60 L177.22,515.60 L178.22,515.60 L179.22,515.60 L180.22,515.60 L181.22,515.60 L182.21,515.60 L183.21,515.60 L184.21,515.60 L185.21,515.60 L186.21,515.60 L187.20,515.60 L188.20,515.60 L189.20,515.60 L190.20,515.60 L191.19,515.60 L192.19,515.60 L193.19,515.60 L194.19,515.60 L195.19,515.60 L196.18,515.60 L197.18,515.60 L198.18,515.60 L199.18,515.60 L200.17,515.60 L201.17,515.60 L202.17,515.60 L203.17,515.60 L204.17,515.60 L205.16,515.60 L206.16,515.60 L207.16,515.60 L208.16,515.60 L209.16,515.60 L210.15,515.60 L211.15,515.60 L212.15,515.60 L213.15,515.60 L214.14,515.60 L215.14,515.60 L216.14,515.60 L217.14,515.60 L218.14,515.60 L219.13,515.60 L220.13,515.60 L221.13,515.60 L222.13,515.60 L223.12,515.60 L224.12,515.60 L225.12,515.60 L226.12,515.60 L227.12,515.60 L228.11,515.60 L229.11,515.60 L230.11,515.60 L231.11,515.60 L232.10,515.60 L233.10,515.60 L234.10,515.60 L235.10,515.60 L236.10,515.60 L237.09,515.60 L238.09,515.60 L239.09,515.60 L240.09,515.60 L241.09,515.60 L242.08,515.60 L243.08,515.60 L244.08,515.60 L245.08,515.60 L246.07,515.60 L247.07,515.60 L248.07,515.60 L249.07,515.60 L250.07,515.60 L251.06,515.60 L252.06,515.60 L253.06,515.60 L254.06,515.60 L255.05,515.60 L256.05,515.60 L257.05,515.60 L258.05,515.60 L259.05,515.60 L260.04,515.60 L261.04,515.60 L262.04,515.60 L263.04,515.60 L264.03,515.60 L265.03,515.60 L266.03,515.60 L267.03,515.60 L268.03,515.60 L269.02,515.60 L270.02,515.60 L271.02,515.60 L272.02,515.60 L273.02,515.60 L274.01,515.60 L275.01,515.60 L276.01,515.60 L277.01,515.60 L278.00,515.60 L279.00,515.60 L280.00,515.60 L281.00,515.60 L282.00,515.59 L283.00,515.58 L284.00,515.57 L285.00,515.56 L286.00,515.54 L287.00,515.53 L288.00,515.51 L289.00,515.48 L290.00,515.46 L291.00,515.44 L292.00,515.41 L293.00,515.38 L294.00,515.36 L295.00,515.33 L296.00,515.30 L297.00,515.28 L298.00,515.25 L299.00,515.22 L300.00,515.20 L301.00,515.17 L302.00,515.14 L303.00,515.11 L304.00,515.08 L305.00,515.04 L306.00,515.00 L307.00,514.96 L308.00,514.92 L309.00,514.88 L310.00,514.84 L311.00,514.80 L312.00,514.77 L313.00,514.73 L314.00,514.70 L315.00,514.67 L316.00,514.65 L317.00,514.63 L318.00,514.61 L319.00,514.60 L320.00,514.60 L321.00,514.60 L322.00,514.61 L323.00,514.63 L324.00,514.64 L325.00,514.67 L326.00,514.69 L327.00,514.72 L328.00,514.76 L329.00,514.79 L330.00,514.83 L331.00,514.87 L332.00,514.91 L333.00,514.95 L334.00,514.99 L335.00,515.03 L336.00,515.07 L337.00,515.10 L338.00,515.14 L339.00,515.17 L340.00,515.20 L340.96,515.23 L341.93,515.25 L342.89,515.28 L343.85,515.31 L344.81,515.33 L345.77,515.36 L346.74,515.38 L347.70,515.41 L348.66,515.43 L349.62,515.46 L350.59,515.48 L351.55,515.51 L352.51,515.53 L353.47,515.55 L354.44,515.58 L355.40,515.60" fill="none" stroke="rgb(125,35,145)" stroke-width="1.50" stroke-linejoin="round" stroke-linecap="butt" />
</g>
<line x1="130.90" y1="515.35" x2="130.90" y2="446.70" stroke="#000" stroke-width="1.40" stroke-dasharray="3.3 3.3"/>
<line x1="203.60" y1="515.35" x2="203.60" y2="446.70" stroke="#000" stroke-width="1.40" stroke-dasharray="3.3 3.3"/>
<line x1="276.40" y1="515.35" x2="276.40" y2="446.70" stroke="#000" stroke-width="1.40" stroke-dasharray="3.3 3.3"/>
<rect x="162.20" y="439.10" width="83.80" height="12.00" fill="#fff"/>
<rect x="164.20" y="442.10" width="6.30" height="0.75" fill="#111"/>
<text x="172.10" y="445.95" font-family="Liberation Serif, serif" font-size="11.30" stroke="#000" stroke-width="0.12" textLength="15.80" lengthAdjust="spacingAndGlyphs">115</text>
<circle cx="190.50" cy="440.75" r="1.35" fill="none" stroke="#222" stroke-width="0.80"/>
<text x="197.10" y="445.95" font-family="Liberation Serif, serif" font-size="11.10" font-weight="bold" textLength="47.30" lengthAdjust="spacingAndGlyphs">Damping</text>
<text x="47.40" y="450.50" font-family="Liberation Serif, serif" font-size="10.30" text-anchor="end">100</text>
<text x="47.40" y="484.80" font-family="Liberation Serif, serif" font-size="10.30" text-anchor="end">50</text>
<text x="47.40" y="519.10" font-family="Liberation Serif, serif" font-size="10.30" text-anchor="end">0</text>
<text x="51.50" y="526.90" font-family="Liberation Serif, serif" font-size="10.50" text-anchor="middle">0</text>
<text x="81.89" y="526.90" font-family="Liberation Serif, serif" font-size="10.50" text-anchor="middle">0.1</text>
<text x="112.28" y="526.90" font-family="Liberation Serif, serif" font-size="10.50" text-anchor="middle">0.2</text>
<text x="142.67" y="526.90" font-family="Liberation Serif, serif" font-size="10.50" text-anchor="middle">0.3</text>
<text x="173.06" y="526.90" font-family="Liberation Serif, serif" font-size="10.50" text-anchor="middle">0.4</text>
<text x="203.45" y="526.90" font-family="Liberation Serif, serif" font-size="10.50" text-anchor="middle">0.5</text>
<text x="233.84" y="526.90" font-family="Liberation Serif, serif" font-size="10.50" text-anchor="middle">0.6</text>
<text x="264.23" y="526.90" font-family="Liberation Serif, serif" font-size="10.50" text-anchor="middle">0.7</text>
<text x="294.62" y="526.90" font-family="Liberation Serif, serif" font-size="10.50" text-anchor="middle">0.8</text>
<text x="325.01" y="526.90" font-family="Liberation Serif, serif" font-size="10.50" text-anchor="middle">0.9</text>
<text x="355.40" y="526.90" font-family="Liberation Serif, serif" font-size="10.50" text-anchor="middle">1</text>
<g transform="translate(15.40,515.32) rotate(-90)"><text font-family="Liberation Serif, serif" font-size="10.90" textLength="40.40" lengthAdjust="spacingAndGlyphs">Damping</text><text x="42.3" font-family="Liberation Serif, serif" font-size="10.90" textLength="16.90" lengthAdjust="spacingAndGlyphs">[N/(</text><text x="59.6" y="-2.6" font-family="Liberation Serif, serif" font-size="5.20">m</text><text x="63.7" y="0" font-family="Liberation Serif, serif" font-size="10.36">/</text><text x="67.8" y="0.2" font-family="Liberation Serif, serif" font-size="5.60">s</text><text x="70.4" font-family="Liberation Serif, serif" font-size="10.90" textLength="5.80" lengthAdjust="spacingAndGlyphs">)]</text></g>
<rect x="359.5" y="455.90" width="73.60" height="43.23" fill="#fff" stroke="#111" stroke-width="1.20"/>
<line x1="363.1" y1="464.60" x2="381.7" y2="464.60" stroke="rgb(10,40,215)" stroke-width="1.50"/>
<text x="384.90" y="467.80" font-family="Liberation Serif, serif" font-size="10.90" textLength="17.10" lengthAdjust="spacingAndGlyphs">Hip</text>
<line x1="363.1" y1="477.60" x2="381.7" y2="477.60" stroke="rgb(125,35,145)" stroke-width="1.50"/>
<text x="384.90" y="480.80" font-family="Liberation Serif, serif" font-size="10.90" textLength="22.30" lengthAdjust="spacingAndGlyphs">Knee</text>
<line x1="363.1" y1="490.60" x2="381.7" y2="490.60" stroke="rgb(50,170,40)" stroke-width="1.50"/>
<text x="384.90" y="493.80" font-family="Liberation Serif, serif" font-size="10.90" textLength="42.80" lengthAdjust="spacingAndGlyphs">Hip-Knee</text>
<text x="60.30" y="543.6" font-family="Liberation Serif, serif" font-size="11.20" textLength="286.70" lengthAdjust="spacingAndGlyphs">Relative progress throughout one complete elliptical motion cycle</text>
</svg></body></html>
